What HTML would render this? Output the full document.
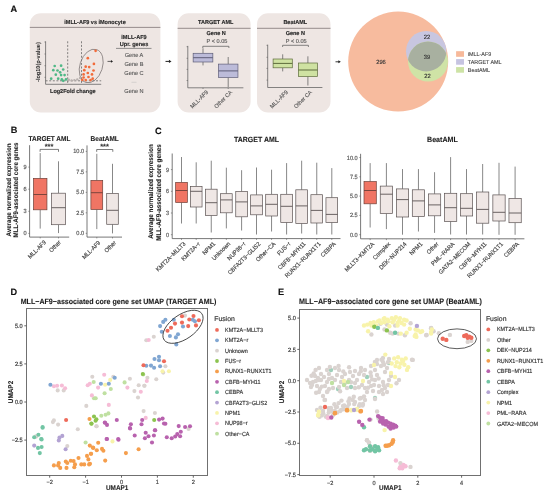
<!DOCTYPE html>
<html><head><meta charset="utf-8"><style>
html,body{margin:0;padding:0;background:#fff;width:550px;height:497px;overflow:hidden}
svg{display:block;will-change:transform}
text{font-family:"Liberation Sans", sans-serif;text-rendering:geometricPrecision}
</style></head><body>
<svg width="550" height="497" viewBox="0 0 550 497">
<text transform="translate(10.4 11.5) scale(1.0000 1)" font-size="9.20" font-weight="bold" text-anchor="start" fill="#111" stroke="#111" stroke-width="0.14">A</text>
<rect x="29.8" y="13.2" width="130.6" height="99.2" fill="#eee6e3" stroke="none" stroke-width="0.8" rx="11"/>
<line x1="29.8" y1="27.4" x2="160.4" y2="27.4" stroke="#8c8282" stroke-width="0.9"/>
<text transform="translate(95 23.6) scale(0.9615 1)" font-size="5.72" font-weight="bold" text-anchor="middle" fill="#2a2a2a" stroke="#2a2a2a" stroke-width="0.14">iMLL-AF9 vs iMonocyte</text>
<line x1="45.6" y1="41.3" x2="45.6" y2="84.3" stroke="#555" stroke-width="0.7"/>
<line x1="45.6" y1="84.3" x2="101.2" y2="84.3" stroke="#555" stroke-width="0.7"/>
<line x1="44.5" y1="42" x2="45.6" y2="42" stroke="#555" stroke-width="0.6"/>
<line x1="44.5" y1="54" x2="45.6" y2="54" stroke="#555" stroke-width="0.6"/>
<line x1="44.5" y1="65.7" x2="45.6" y2="65.7" stroke="#555" stroke-width="0.6"/>
<line x1="44.5" y1="77.3" x2="45.6" y2="77.3" stroke="#555" stroke-width="0.6"/>
<line x1="67.7" y1="41.3" x2="67.7" y2="84.3" stroke="#555" stroke-width="0.7" stroke-dasharray="2,1.6"/>
<line x1="81.5" y1="41.3" x2="81.5" y2="84.3" stroke="#555" stroke-width="0.7" stroke-dasharray="2,1.6"/>
<line x1="45.6" y1="80.8" x2="101.2" y2="80.8" stroke="#555" stroke-width="0.7" stroke-dasharray="2,1.6"/>
<ellipse cx="91.2" cy="66" rx="11.3" ry="17.3" fill="none" stroke="#7a7272" stroke-width="0.7" transform="rotate(18 91.2 66)"/>
<circle cx="54.7" cy="66.0" r="1.35" fill="#4fb886" stroke="none" stroke-width="0.8"/>
<circle cx="61.1" cy="65.7" r="1.35" fill="#4fb886" stroke="none" stroke-width="0.8"/>
<circle cx="53.3" cy="70.2" r="1.35" fill="#4fb886" stroke="none" stroke-width="0.8"/>
<circle cx="57.5" cy="70.5" r="1.35" fill="#4fb886" stroke="none" stroke-width="0.8"/>
<circle cx="63.2" cy="69.5" r="1.35" fill="#4fb886" stroke="none" stroke-width="0.8"/>
<circle cx="60.1" cy="72.3" r="1.35" fill="#4fb886" stroke="none" stroke-width="0.8"/>
<circle cx="55.8" cy="74.7" r="1.35" fill="#4fb886" stroke="none" stroke-width="0.8"/>
<circle cx="61.1" cy="75.1" r="1.35" fill="#4fb886" stroke="none" stroke-width="0.8"/>
<circle cx="64.6" cy="75.1" r="1.35" fill="#4fb886" stroke="none" stroke-width="0.8"/>
<circle cx="51.2" cy="78.7" r="1.35" fill="#4fb886" stroke="none" stroke-width="0.8"/>
<circle cx="58.2" cy="78.7" r="1.35" fill="#4fb886" stroke="none" stroke-width="0.8"/>
<circle cx="61.8" cy="79.4" r="1.35" fill="#4fb886" stroke="none" stroke-width="0.8"/>
<circle cx="66.0" cy="79.4" r="1.35" fill="#4fb886" stroke="none" stroke-width="0.8"/>
<circle cx="63.2" cy="80.8" r="1.35" fill="#4fb886" stroke="none" stroke-width="0.8"/>
<circle cx="95.6" cy="50.8" r="1.35" fill="#f26b3a" stroke="none" stroke-width="0.8"/>
<circle cx="87.8" cy="58.2" r="1.35" fill="#f26b3a" stroke="none" stroke-width="0.8"/>
<circle cx="85.7" cy="66.7" r="1.35" fill="#f26b3a" stroke="none" stroke-width="0.8"/>
<circle cx="89.2" cy="67.1" r="1.35" fill="#f26b3a" stroke="none" stroke-width="0.8"/>
<circle cx="93.9" cy="63.9" r="1.35" fill="#f26b3a" stroke="none" stroke-width="0.8"/>
<circle cx="84.3" cy="70.2" r="1.35" fill="#f26b3a" stroke="none" stroke-width="0.8"/>
<circle cx="93.5" cy="70.5" r="1.35" fill="#f26b3a" stroke="none" stroke-width="0.8"/>
<circle cx="87.8" cy="73.0" r="1.35" fill="#f26b3a" stroke="none" stroke-width="0.8"/>
<circle cx="83.6" cy="74.4" r="1.35" fill="#f26b3a" stroke="none" stroke-width="0.8"/>
<circle cx="92.0" cy="74.4" r="1.35" fill="#f26b3a" stroke="none" stroke-width="0.8"/>
<circle cx="88.5" cy="77.0" r="1.35" fill="#f26b3a" stroke="none" stroke-width="0.8"/>
<circle cx="83.6" cy="77.5" r="1.35" fill="#f26b3a" stroke="none" stroke-width="0.8"/>
<circle cx="92.7" cy="78.7" r="1.35" fill="#f26b3a" stroke="none" stroke-width="0.8"/>
<circle cx="90.6" cy="80.1" r="1.35" fill="#f26b3a" stroke="none" stroke-width="0.8"/>
<circle cx="85.7" cy="80.1" r="1.35" fill="#f26b3a" stroke="none" stroke-width="0.8"/>
<circle cx="82.2" cy="79.8" r="1.35" fill="#f26b3a" stroke="none" stroke-width="0.8"/>
<circle cx="68.8" cy="79.8" r="1.2" fill="#b8b0ae" stroke="none" stroke-width="0.8"/>
<circle cx="71.6" cy="80.4" r="1.2" fill="#b8b0ae" stroke="none" stroke-width="0.8"/>
<circle cx="74.4" cy="80.1" r="1.2" fill="#b8b0ae" stroke="none" stroke-width="0.8"/>
<circle cx="77.3" cy="79.4" r="1.2" fill="#b8b0ae" stroke="none" stroke-width="0.8"/>
<circle cx="80.1" cy="78.0" r="1.2" fill="#b8b0ae" stroke="none" stroke-width="0.8"/>
<text transform="translate(72.8 92.5) scale(0.9615 1)" font-size="5.72" font-weight="bold" text-anchor="middle" fill="#2a2a2a" stroke="#2a2a2a" stroke-width="0.14">Log2Fold change</text>
<text transform="translate(40.3 62.1) rotate(-90) scale(0.9615 1)" font-size="5.82" font-weight="bold" text-anchor="middle" fill="#2a2a2a">-log10(p-value)</text>
<text transform="translate(134 39.3) scale(0.9615 1)" font-size="5.82" font-weight="bold" text-anchor="middle" fill="#2a2a2a" stroke="#2a2a2a" stroke-width="0.14">iMLL-AF9</text>
<text transform="translate(134 46.3) scale(0.9615 1)" font-size="5.82" font-weight="bold" text-anchor="middle" fill="#2a2a2a" stroke="#2a2a2a" stroke-width="0.14">Upr. genes</text>
<line x1="116" y1="48.4" x2="151.5" y2="48.4" stroke="#666" stroke-width="0.7"/>
<text transform="translate(134 56.8) scale(0.9615 1)" font-size="5.82" font-weight="normal" text-anchor="middle" fill="#555" stroke="#555" stroke-width="0.12">Gene A</text>
<text transform="translate(134 66.1) scale(0.9615 1)" font-size="5.82" font-weight="normal" text-anchor="middle" fill="#555" stroke="#555" stroke-width="0.12">Gene B</text>
<text transform="translate(134 74.5) scale(0.9615 1)" font-size="5.82" font-weight="normal" text-anchor="middle" fill="#555" stroke="#555" stroke-width="0.12">Gene C</text>
<text transform="translate(134 92.6) scale(0.9615 1)" font-size="5.82" font-weight="normal" text-anchor="middle" fill="#555" stroke="#555" stroke-width="0.12">Gene N</text>
<line x1="131.5" y1="82.3" x2="136.5" y2="82.3" stroke="#bbb" stroke-width="0.5"/>
<line x1="107.5" y1="61.4" x2="111.7" y2="61.4" stroke="#222" stroke-width="0.7"/>
<path d="M113 61.4 L110.92 60.1 L110.92 62.699999999999996 Z" fill="#222"/>
<line x1="165.5" y1="61.4" x2="169.9" y2="61.4" stroke="#222" stroke-width="1.0"/>
<path d="M171.5 61.4 L168.94 59.8 L168.94 63.0 Z" fill="#222"/>
<line x1="335.5" y1="61.8" x2="339.3" y2="61.8" stroke="#222" stroke-width="0.9"/>
<path d="M340.8 61.8 L338.40000000000003 60.3 L338.40000000000003 63.3 Z" fill="#222"/>
<rect x="177.6" y="13.2" width="73.0" height="99.2" fill="#eee6e3" stroke="none" stroke-width="0.8" rx="11"/>
<line x1="177.6" y1="28.3" x2="250.6" y2="28.3" stroke="#8c8282" stroke-width="0.9"/>
<text transform="translate(215.7 24) scale(0.9615 1)" font-size="5.72" font-weight="bold" text-anchor="middle" fill="#2a2a2a" stroke="#2a2a2a" stroke-width="0.14">TARGET AML</text>
<text transform="translate(216.2 34.6) scale(0.9615 1)" font-size="5.72" font-weight="bold" text-anchor="middle" fill="#2a2a2a" stroke="#2a2a2a" stroke-width="0.14">Gene N</text>
<text transform="translate(217 43.3) scale(0.9615 1)" font-size="5.82" font-weight="normal" text-anchor="middle" fill="#555" stroke="#555" stroke-width="0.12">P &lt; 0.05</text>
<path d="M202.8 48 L202.8 46.3 L228.9 46.3 L228.9 48" fill="none" stroke="#555" stroke-width="0.7"/>
<line x1="187.8" y1="45.9" x2="187.8" y2="87.8" stroke="#555" stroke-width="0.7"/>
<line x1="187.8" y1="87.8" x2="243.4" y2="87.8" stroke="#555" stroke-width="0.7"/>
<line x1="186.6" y1="46.7" x2="187.8" y2="46.7" stroke="#555" stroke-width="0.6"/>
<line x1="186.6" y1="58.3" x2="187.8" y2="58.3" stroke="#555" stroke-width="0.6"/>
<line x1="186.6" y1="69.4" x2="187.8" y2="69.4" stroke="#555" stroke-width="0.6"/>
<line x1="186.6" y1="80.5" x2="187.8" y2="80.5" stroke="#555" stroke-width="0.6"/>
<line x1="203" y1="48.3" x2="203" y2="53.3" stroke="#555" stroke-width="0.7"/>
<line x1="203" y1="62" x2="203" y2="65.4" stroke="#555" stroke-width="0.7"/>
<rect x="193.15" y="53.3" width="19.7" height="8.700000000000003" fill="#bcbbd9" stroke="#5f5e78" stroke-width="0.7" rx="0"/>
<line x1="193.15" y1="57.7" x2="212.85" y2="57.7" stroke="#5f5e78" stroke-width="1.0"/>
<line x1="228.2" y1="57" x2="228.2" y2="64.1" stroke="#555" stroke-width="0.7"/>
<line x1="228.2" y1="77.5" x2="228.2" y2="87" stroke="#555" stroke-width="0.7"/>
<rect x="218.45" y="64.1" width="19.5" height="13.400000000000006" fill="#bcbbd9" stroke="#5f5e78" stroke-width="0.7" rx="0"/>
<line x1="218.45" y1="70.9" x2="237.95" y2="70.9" stroke="#5f5e78" stroke-width="1.0"/>
<line x1="203" y1="87.8" x2="203" y2="89" stroke="#555" stroke-width="0.6"/>
<line x1="228.2" y1="87.8" x2="228.2" y2="89" stroke="#555" stroke-width="0.6"/>
<text transform="translate(208.6 92.6) rotate(-45) scale(0.9615 1)" font-size="5.77" font-weight="normal" text-anchor="end" fill="#555" stroke="#555" stroke-width="0.12">MLL-AF9</text>
<text transform="translate(232.6 92.6) rotate(-45) scale(0.9615 1)" font-size="5.72" font-weight="normal" text-anchor="end" fill="#555" stroke="#555" stroke-width="0.12">Other CA</text>
<rect x="257" y="13.2" width="73.5" height="99.2" fill="#eee6e3" stroke="none" stroke-width="0.8" rx="11"/>
<line x1="257" y1="28.3" x2="330.5" y2="28.3" stroke="#8c8282" stroke-width="0.9"/>
<text transform="translate(295.3 24) scale(0.9615 1)" font-size="5.72" font-weight="bold" text-anchor="middle" fill="#2a2a2a" stroke="#2a2a2a" stroke-width="0.14">BeatAML</text>
<text transform="translate(295.3 34.6) scale(0.9615 1)" font-size="5.72" font-weight="bold" text-anchor="middle" fill="#2a2a2a" stroke="#2a2a2a" stroke-width="0.14">Gene N</text>
<text transform="translate(296.3 42.7) scale(0.9615 1)" font-size="5.82" font-weight="normal" text-anchor="middle" fill="#555" stroke="#555" stroke-width="0.12">P &lt; 0.05</text>
<path d="M282.6 47 L282.6 45.3 L308.4 45.3 L308.4 47" fill="none" stroke="#555" stroke-width="0.7"/>
<line x1="267.7" y1="44.7" x2="267.7" y2="87.5" stroke="#555" stroke-width="0.7"/>
<line x1="267.7" y1="87.5" x2="322.4" y2="87.5" stroke="#555" stroke-width="0.7"/>
<line x1="266.5" y1="45.3" x2="267.7" y2="45.3" stroke="#555" stroke-width="0.6"/>
<line x1="266.5" y1="57.3" x2="267.7" y2="57.3" stroke="#555" stroke-width="0.6"/>
<line x1="266.5" y1="68.4" x2="267.7" y2="68.4" stroke="#555" stroke-width="0.6"/>
<line x1="266.5" y1="80.1" x2="267.7" y2="80.1" stroke="#555" stroke-width="0.6"/>
<line x1="282.7" y1="54.3" x2="282.7" y2="59" stroke="#555" stroke-width="0.7"/>
<line x1="282.7" y1="67.8" x2="282.7" y2="71.4" stroke="#555" stroke-width="0.7"/>
<rect x="273.09999999999997" y="59" width="19.2" height="8.799999999999997" fill="#cfe2a2" stroke="#5d6b3c" stroke-width="0.7" rx="0"/>
<line x1="273.09999999999997" y1="63.4" x2="292.3" y2="63.4" stroke="#5d6b3c" stroke-width="1.0"/>
<line x1="307.9" y1="56.3" x2="307.9" y2="63" stroke="#555" stroke-width="0.7"/>
<line x1="307.9" y1="76.5" x2="307.9" y2="85.5" stroke="#555" stroke-width="0.7"/>
<rect x="298.34999999999997" y="63" width="19.1" height="13.5" fill="#cfe2a2" stroke="#5d6b3c" stroke-width="0.7" rx="0"/>
<line x1="298.34999999999997" y1="70" x2="317.45" y2="70" stroke="#5d6b3c" stroke-width="1.0"/>
<text transform="translate(288.4 92.6) rotate(-45) scale(0.9615 1)" font-size="5.77" font-weight="normal" text-anchor="end" fill="#555" stroke="#555" stroke-width="0.12">MLL-AF9</text>
<text transform="translate(312.4 92.6) rotate(-45) scale(0.9615 1)" font-size="5.72" font-weight="normal" text-anchor="end" fill="#555" stroke="#555" stroke-width="0.12">Other CA</text>
<circle cx="398.2" cy="61.6" r="50" fill="#f7bb9e" stroke="none" stroke-width="0.8"/>
<circle cx="426.2" cy="51.2" r="20.2" fill="#c8c6e0" stroke="none" stroke-width="0.8"/>
<circle cx="428.0" cy="61.6" r="20" fill="#cfe3a6" stroke="none" stroke-width="0.8"/>
<clipPath id="cp1"><circle cx="426.2" cy="51.2" r="20.2"/></clipPath>
<circle cx="428" cy="61.6" r="20" fill="#a8b0a0" clip-path="url(#cp1)"/>
<text transform="translate(381 63.6) scale(0.9615 1)" font-size="6.03" font-weight="normal" text-anchor="middle" fill="#333" stroke="#333" stroke-width="0.12">296</text>
<text transform="translate(427 38.8) scale(0.9615 1)" font-size="6.03" font-weight="normal" text-anchor="middle" fill="#333" stroke="#333" stroke-width="0.12">22</text>
<text transform="translate(427 59) scale(0.9615 1)" font-size="6.03" font-weight="normal" text-anchor="middle" fill="#333" stroke="#333" stroke-width="0.12">39</text>
<text transform="translate(427.5 77.6) scale(0.9615 1)" font-size="6.03" font-weight="normal" text-anchor="middle" fill="#333" stroke="#333" stroke-width="0.12">22</text>
<rect x="456.1" y="51.2" width="7.9" height="5.6" fill="#f7b99a" stroke="none" stroke-width="0.8" rx="0"/>
<text transform="translate(467.8 56.400000000000006) scale(0.9615 1)" font-size="5.62" font-weight="normal" text-anchor="start" fill="#4a4a4a" stroke="#4a4a4a" stroke-width="0.12">iMLL-AF9</text>
<rect x="456.1" y="59.1" width="7.9" height="5.6" fill="#c6c4e1" stroke="none" stroke-width="0.8" rx="0"/>
<text transform="translate(467.8 64.3) scale(0.9615 1)" font-size="5.62" font-weight="normal" text-anchor="start" fill="#4a4a4a" stroke="#4a4a4a" stroke-width="0.12">TARGET AML</text>
<rect x="456.1" y="67.1" width="7.9" height="5.6" fill="#cde3a5" stroke="none" stroke-width="0.8" rx="0"/>
<text transform="translate(467.8 72.3) scale(0.9615 1)" font-size="5.62" font-weight="normal" text-anchor="start" fill="#4a4a4a" stroke="#4a4a4a" stroke-width="0.12">BeatAML</text>
<text transform="translate(10.8 133.4) scale(1.0000 1)" font-size="9.20" font-weight="bold" text-anchor="start" fill="#111" stroke="#111" stroke-width="0.1">B</text>
<text transform="translate(49.5 140.9) scale(0.9259 1)" font-size="7.02" font-weight="bold" text-anchor="middle" fill="#1a1a1a" stroke="#1a1a1a" stroke-width="0.1">TARGET AML</text>
<text transform="translate(49 149.3) scale(1.0000 1)" font-size="7.40" font-weight="bold" text-anchor="middle" fill="#333" stroke="#333" stroke-width="0.1">***</text>
<path d="M40.1 151.8 L40.1 149.4 L58.5 149.4 L58.5 151.8" fill="none" stroke="#444" stroke-width="0.7"/>
<line x1="29.6" y1="145.2" x2="29.6" y2="237.1" stroke="#555" stroke-width="0.8"/>
<line x1="29.6" y1="237.1" x2="69.2" y2="237.1" stroke="#555" stroke-width="0.8"/>
<line x1="28.3" y1="233.4" x2="29.6" y2="233.4" stroke="#555" stroke-width="0.6"/>
<text transform="translate(26.5 235.4) scale(0.9259 1)" font-size="6.05" font-weight="normal" text-anchor="end" fill="#555" stroke="#555" stroke-width="0.16">0</text>
<line x1="28.3" y1="211.3" x2="29.6" y2="211.3" stroke="#555" stroke-width="0.6"/>
<text transform="translate(26.5 213.3) scale(0.9259 1)" font-size="6.05" font-weight="normal" text-anchor="end" fill="#555" stroke="#555" stroke-width="0.16">3</text>
<line x1="28.3" y1="189.2" x2="29.6" y2="189.2" stroke="#555" stroke-width="0.6"/>
<text transform="translate(26.5 191.2) scale(0.9259 1)" font-size="6.05" font-weight="normal" text-anchor="end" fill="#555" stroke="#555" stroke-width="0.16">6</text>
<line x1="28.3" y1="167.10000000000002" x2="29.6" y2="167.10000000000002" stroke="#555" stroke-width="0.6"/>
<text transform="translate(26.5 169.10000000000002) scale(0.9259 1)" font-size="6.05" font-weight="normal" text-anchor="end" fill="#555" stroke="#555" stroke-width="0.16">9</text>
<line x1="40.2" y1="153.1" x2="40.2" y2="178.4" stroke="#555" stroke-width="0.7"/>
<line x1="40.2" y1="209.8" x2="40.2" y2="228.6" stroke="#555" stroke-width="0.7"/>
<rect x="33.45" y="178.4" width="13.5" height="31.400000000000006" fill="#f07564" stroke="#6e4038" stroke-width="0.7" rx="0"/>
<line x1="33.45" y1="194.5" x2="46.95" y2="194.5" stroke="#6e4038" stroke-width="0.9"/>
<line x1="58.5" y1="161.3" x2="58.5" y2="193.2" stroke="#555" stroke-width="0.7"/>
<line x1="58.5" y1="224.7" x2="58.5" y2="233.1" stroke="#555" stroke-width="0.7"/>
<rect x="51.5" y="193.2" width="14" height="31.5" fill="#efe7e5" stroke="#5a5252" stroke-width="0.7" rx="0"/>
<line x1="51.5" y1="207.7" x2="65.5" y2="207.7" stroke="#5a5252" stroke-width="0.9"/>
<line x1="40.2" y1="237.1" x2="40.2" y2="238.4" stroke="#555" stroke-width="0.6"/>
<line x1="58.5" y1="237.1" x2="58.5" y2="238.4" stroke="#555" stroke-width="0.6"/>
<text transform="translate(46.5 242.8) rotate(-45) scale(0.9259 1)" font-size="6.05" font-weight="normal" text-anchor="end" fill="#444" stroke="#444" stroke-width="0.16">MLL-AF9</text>
<text transform="translate(61.4 242.8) rotate(-45) scale(0.9259 1)" font-size="6.05" font-weight="normal" text-anchor="end" fill="#444" stroke="#444" stroke-width="0.16">Other</text>
<text transform="translate(104.7 141.3) scale(0.9259 1)" font-size="7.02" font-weight="bold" text-anchor="middle" fill="#1a1a1a" stroke="#1a1a1a" stroke-width="0.1">BeatAML</text>
<text transform="translate(104.5 149.3) scale(1.0000 1)" font-size="7.40" font-weight="bold" text-anchor="middle" fill="#333" stroke="#333" stroke-width="0.1">***</text>
<path d="M96.7 151.8 L96.7 149.5 L112.8 149.5 L112.8 151.8" fill="none" stroke="#444" stroke-width="0.7"/>
<line x1="87" y1="145.4" x2="87" y2="237.1" stroke="#555" stroke-width="0.8"/>
<line x1="87" y1="237.1" x2="122" y2="237.1" stroke="#555" stroke-width="0.8"/>
<line x1="85.7" y1="233.3" x2="87" y2="233.3" stroke="#555" stroke-width="0.6"/>
<text transform="translate(84.1 235.3) scale(0.9259 1)" font-size="6.05" font-weight="normal" text-anchor="end" fill="#555" stroke="#555" stroke-width="0.16">0.0</text>
<line x1="85.7" y1="212.82500000000002" x2="87" y2="212.82500000000002" stroke="#555" stroke-width="0.6"/>
<text transform="translate(84.1 214.82500000000002) scale(0.9259 1)" font-size="6.05" font-weight="normal" text-anchor="end" fill="#555" stroke="#555" stroke-width="0.16">2.5</text>
<line x1="85.7" y1="192.35000000000002" x2="87" y2="192.35000000000002" stroke="#555" stroke-width="0.6"/>
<text transform="translate(84.1 194.35000000000002) scale(0.9259 1)" font-size="6.05" font-weight="normal" text-anchor="end" fill="#555" stroke="#555" stroke-width="0.16">5.0</text>
<line x1="85.7" y1="171.875" x2="87" y2="171.875" stroke="#555" stroke-width="0.6"/>
<text transform="translate(84.1 173.875) scale(0.9259 1)" font-size="6.05" font-weight="normal" text-anchor="end" fill="#555" stroke="#555" stroke-width="0.16">7.5</text>
<line x1="85.7" y1="151.40000000000003" x2="87" y2="151.40000000000003" stroke="#555" stroke-width="0.6"/>
<text transform="translate(84.1 153.40000000000003) scale(0.9259 1)" font-size="6.05" font-weight="normal" text-anchor="end" fill="#555" stroke="#555" stroke-width="0.16">10.0</text>
<line x1="96.8" y1="153.8" x2="96.8" y2="180.4" stroke="#555" stroke-width="0.7"/>
<line x1="96.8" y1="209.5" x2="96.8" y2="229.1" stroke="#555" stroke-width="0.7"/>
<rect x="90.89999999999999" y="180.4" width="11.8" height="29.099999999999994" fill="#f07564" stroke="#6e4038" stroke-width="0.7" rx="0"/>
<line x1="90.89999999999999" y1="192.7" x2="102.7" y2="192.7" stroke="#6e4038" stroke-width="0.9"/>
<line x1="112.5" y1="163.8" x2="112.5" y2="193.5" stroke="#555" stroke-width="0.7"/>
<line x1="112.5" y1="224.3" x2="112.5" y2="233.4" stroke="#555" stroke-width="0.7"/>
<rect x="106.7" y="193.5" width="11.6" height="30.80000000000001" fill="#efe7e5" stroke="#5a5252" stroke-width="0.7" rx="0"/>
<line x1="106.7" y1="210.3" x2="118.3" y2="210.3" stroke="#5a5252" stroke-width="0.9"/>
<line x1="96.8" y1="237.1" x2="96.8" y2="238.4" stroke="#555" stroke-width="0.6"/>
<line x1="112.5" y1="237.1" x2="112.5" y2="238.4" stroke="#555" stroke-width="0.6"/>
<text transform="translate(100.8 243.2) rotate(-45) scale(0.9259 1)" font-size="6.05" font-weight="normal" text-anchor="end" fill="#444" stroke="#444" stroke-width="0.16">MLL-AF9</text>
<text transform="translate(116.6 243.2) rotate(-45) scale(0.9259 1)" font-size="6.05" font-weight="normal" text-anchor="end" fill="#444" stroke="#444" stroke-width="0.16">Other</text>
<text transform="translate(11.0 190) rotate(-90) scale(0.9259 1)" font-size="6.70" font-weight="bold" text-anchor="middle" fill="#1a1a1a" stroke="#1a1a1a" stroke-width="0.1">Average normalized expression</text>
<text transform="translate(17.9 190) rotate(-90) scale(0.9259 1)" font-size="6.70" font-weight="bold" text-anchor="middle" fill="#1a1a1a" stroke="#1a1a1a" stroke-width="0.1">MLL-AF9-associated core genes</text>
<text transform="translate(155.1 133.9) scale(1.0000 1)" font-size="9.20" font-weight="bold" text-anchor="start" fill="#111" stroke="#111" stroke-width="0.1">C</text>
<text transform="translate(153.0 191.5) rotate(-90) scale(0.9259 1)" font-size="6.80" font-weight="bold" text-anchor="middle" fill="#1a1a1a" stroke="#1a1a1a" stroke-width="0.1">Average normalized expression</text>
<text transform="translate(161.4 192.5) rotate(-90) scale(0.9259 1)" font-size="6.80" font-weight="bold" text-anchor="middle" fill="#1a1a1a" stroke="#1a1a1a" stroke-width="0.1">MLL-AF9-associated core genes</text>
<text transform="translate(256.5 141.5) scale(0.9259 1)" font-size="7.56" font-weight="bold" text-anchor="middle" fill="#1a1a1a" stroke="#1a1a1a" stroke-width="0.1">TARGET AML</text>
<line x1="172.2" y1="153.5" x2="172.2" y2="238.6" stroke="#555" stroke-width="0.8"/>
<line x1="172.2" y1="238.6" x2="340.5" y2="238.6" stroke="#555" stroke-width="0.8"/>
<line x1="170.9" y1="234.7" x2="172.2" y2="234.7" stroke="#555" stroke-width="0.6"/>
<text transform="translate(169.2 236.7) scale(0.9259 1)" font-size="6.05" font-weight="normal" text-anchor="end" fill="#555" stroke="#555" stroke-width="0.16">0</text>
<line x1="170.9" y1="213.0" x2="172.2" y2="213.0" stroke="#555" stroke-width="0.6"/>
<text transform="translate(169.2 215.0) scale(0.9259 1)" font-size="6.05" font-weight="normal" text-anchor="end" fill="#555" stroke="#555" stroke-width="0.16">3</text>
<line x1="170.9" y1="191.29999999999998" x2="172.2" y2="191.29999999999998" stroke="#555" stroke-width="0.6"/>
<text transform="translate(169.2 193.29999999999998) scale(0.9259 1)" font-size="6.05" font-weight="normal" text-anchor="end" fill="#555" stroke="#555" stroke-width="0.16">6</text>
<line x1="170.9" y1="169.6" x2="172.2" y2="169.6" stroke="#555" stroke-width="0.6"/>
<text transform="translate(169.2 171.6) scale(0.9259 1)" font-size="6.05" font-weight="normal" text-anchor="end" fill="#555" stroke="#555" stroke-width="0.16">9</text>
<line x1="181.5" y1="157" x2="181.5" y2="182.4" stroke="#555" stroke-width="0.7"/>
<line x1="181.5" y1="202.5" x2="181.5" y2="223.5" stroke="#555" stroke-width="0.7"/>
<rect x="175.65" y="182.4" width="11.7" height="20.099999999999994" fill="#f07564" stroke="#6e4038" stroke-width="0.7" rx="0"/>
<line x1="175.65" y1="190.5" x2="187.35" y2="190.5" stroke="#6e4038" stroke-width="0.9"/>
<line x1="181.5" y1="238.6" x2="181.5" y2="239.9" stroke="#555" stroke-width="0.6"/>
<text transform="translate(185.9 244.3) rotate(-45) scale(0.9259 1)" font-size="6.05" font-weight="normal" text-anchor="end" fill="#444" stroke="#444" stroke-width="0.16">KMT2A−MLLT3</text>
<line x1="196.2" y1="162.3" x2="196.2" y2="186.4" stroke="#555" stroke-width="0.7"/>
<line x1="196.2" y1="207" x2="196.2" y2="223.5" stroke="#555" stroke-width="0.7"/>
<rect x="190.35" y="186.4" width="11.7" height="20.599999999999994" fill="#efe7e5" stroke="#5a5252" stroke-width="0.7" rx="0"/>
<line x1="190.35" y1="191.3" x2="202.04999999999998" y2="191.3" stroke="#5a5252" stroke-width="0.9"/>
<line x1="196.2" y1="238.6" x2="196.2" y2="239.9" stroke="#555" stroke-width="0.6"/>
<text transform="translate(200.6 244.3) rotate(-45) scale(0.9259 1)" font-size="6.05" font-weight="normal" text-anchor="end" fill="#444" stroke="#444" stroke-width="0.16">KMT2A−r</text>
<line x1="211.25" y1="160.7" x2="211.25" y2="189.2" stroke="#555" stroke-width="0.7"/>
<line x1="211.25" y1="215.4" x2="211.25" y2="232.5" stroke="#555" stroke-width="0.7"/>
<rect x="205.4" y="189.2" width="11.7" height="26.200000000000017" fill="#efe7e5" stroke="#5a5252" stroke-width="0.7" rx="0"/>
<line x1="205.4" y1="202.7" x2="217.1" y2="202.7" stroke="#5a5252" stroke-width="0.9"/>
<line x1="211.25" y1="238.6" x2="211.25" y2="239.9" stroke="#555" stroke-width="0.6"/>
<text transform="translate(215.65 244.3) rotate(-45) scale(0.9259 1)" font-size="6.05" font-weight="normal" text-anchor="end" fill="#444" stroke="#444" stroke-width="0.16">NPM1</text>
<line x1="226.35" y1="167.7" x2="226.35" y2="193.7" stroke="#555" stroke-width="0.7"/>
<line x1="226.35" y1="212.8" x2="226.35" y2="228.4" stroke="#555" stroke-width="0.7"/>
<rect x="220.5" y="193.7" width="11.7" height="19.100000000000023" fill="#efe7e5" stroke="#5a5252" stroke-width="0.7" rx="0"/>
<line x1="220.5" y1="199.9" x2="232.2" y2="199.9" stroke="#5a5252" stroke-width="0.9"/>
<line x1="226.35" y1="238.6" x2="226.35" y2="239.9" stroke="#555" stroke-width="0.6"/>
<text transform="translate(230.75 244.3) rotate(-45) scale(0.9259 1)" font-size="6.05" font-weight="normal" text-anchor="end" fill="#444" stroke="#444" stroke-width="0.16">Unknown</text>
<line x1="241.6" y1="170.2" x2="241.6" y2="191.5" stroke="#555" stroke-width="0.7"/>
<line x1="241.6" y1="216.8" x2="241.6" y2="230.5" stroke="#555" stroke-width="0.7"/>
<rect x="235.75" y="191.5" width="11.7" height="25.30000000000001" fill="#efe7e5" stroke="#5a5252" stroke-width="0.7" rx="0"/>
<line x1="235.75" y1="201.9" x2="247.45" y2="201.9" stroke="#5a5252" stroke-width="0.9"/>
<line x1="241.6" y1="238.6" x2="241.6" y2="239.9" stroke="#555" stroke-width="0.6"/>
<text transform="translate(246.0 244.3) rotate(-45) scale(0.9259 1)" font-size="6.05" font-weight="normal" text-anchor="end" fill="#444" stroke="#444" stroke-width="0.16">NUP98−r</text>
<line x1="256.5" y1="167.5" x2="256.5" y2="194.9" stroke="#555" stroke-width="0.7"/>
<line x1="256.5" y1="214.8" x2="256.5" y2="234.5" stroke="#555" stroke-width="0.7"/>
<rect x="250.65" y="194.9" width="11.7" height="19.900000000000006" fill="#efe7e5" stroke="#5a5252" stroke-width="0.7" rx="0"/>
<line x1="250.65" y1="205.9" x2="262.35" y2="205.9" stroke="#5a5252" stroke-width="0.9"/>
<line x1="256.5" y1="238.6" x2="256.5" y2="239.9" stroke="#555" stroke-width="0.6"/>
<text transform="translate(260.9 244.3) rotate(-45) scale(0.9259 1)" font-size="6.05" font-weight="normal" text-anchor="end" fill="#444" stroke="#444" stroke-width="0.16">CBFA2T3−GLIS2</text>
<line x1="271.55" y1="169.7" x2="271.55" y2="194.3" stroke="#555" stroke-width="0.7"/>
<line x1="271.55" y1="216" x2="271.55" y2="231.5" stroke="#555" stroke-width="0.7"/>
<rect x="265.7" y="194.3" width="11.7" height="21.69999999999999" fill="#efe7e5" stroke="#5a5252" stroke-width="0.7" rx="0"/>
<line x1="265.7" y1="204.3" x2="277.40000000000003" y2="204.3" stroke="#5a5252" stroke-width="0.9"/>
<line x1="271.55" y1="238.6" x2="271.55" y2="239.9" stroke="#555" stroke-width="0.6"/>
<text transform="translate(275.95 244.3) rotate(-45) scale(0.9259 1)" font-size="6.05" font-weight="normal" text-anchor="end" fill="#444" stroke="#444" stroke-width="0.16">Other−CA</text>
<line x1="286.6" y1="163.1" x2="286.6" y2="194.3" stroke="#555" stroke-width="0.7"/>
<line x1="286.6" y1="222.4" x2="286.6" y2="234.5" stroke="#555" stroke-width="0.7"/>
<rect x="280.75" y="194.3" width="11.7" height="28.099999999999994" fill="#efe7e5" stroke="#5a5252" stroke-width="0.7" rx="0"/>
<line x1="280.75" y1="206.3" x2="292.45000000000005" y2="206.3" stroke="#5a5252" stroke-width="0.9"/>
<line x1="286.6" y1="238.6" x2="286.6" y2="239.9" stroke="#555" stroke-width="0.6"/>
<text transform="translate(291.0 244.3) rotate(-45) scale(0.9259 1)" font-size="6.05" font-weight="normal" text-anchor="end" fill="#444" stroke="#444" stroke-width="0.16">FUS−r</text>
<line x1="301.65" y1="160.7" x2="301.65" y2="189.8" stroke="#555" stroke-width="0.7"/>
<line x1="301.65" y1="223.4" x2="301.65" y2="233.5" stroke="#555" stroke-width="0.7"/>
<rect x="295.79999999999995" y="189.8" width="11.7" height="33.599999999999994" fill="#efe7e5" stroke="#5a5252" stroke-width="0.7" rx="0"/>
<line x1="295.79999999999995" y1="205.9" x2="307.5" y2="205.9" stroke="#5a5252" stroke-width="0.9"/>
<line x1="301.65" y1="238.6" x2="301.65" y2="239.9" stroke="#555" stroke-width="0.6"/>
<text transform="translate(306.04999999999995 244.3) rotate(-45) scale(0.9259 1)" font-size="6.05" font-weight="normal" text-anchor="end" fill="#444" stroke="#444" stroke-width="0.16">CBFB−MYH11</text>
<line x1="316.75" y1="162.7" x2="316.75" y2="194.7" stroke="#555" stroke-width="0.7"/>
<line x1="316.75" y1="223" x2="316.75" y2="234.5" stroke="#555" stroke-width="0.7"/>
<rect x="310.9" y="194.7" width="11.7" height="28.30000000000001" fill="#efe7e5" stroke="#5a5252" stroke-width="0.7" rx="0"/>
<line x1="310.9" y1="210.4" x2="322.6" y2="210.4" stroke="#5a5252" stroke-width="0.9"/>
<line x1="316.75" y1="238.6" x2="316.75" y2="239.9" stroke="#555" stroke-width="0.6"/>
<text transform="translate(321.15 244.3) rotate(-45) scale(0.9259 1)" font-size="6.05" font-weight="normal" text-anchor="end" fill="#444" stroke="#444" stroke-width="0.16">RUNX1−RUNX1T1</text>
<line x1="331.8" y1="168.1" x2="331.8" y2="197.7" stroke="#555" stroke-width="0.7"/>
<line x1="331.8" y1="222.4" x2="331.8" y2="234.5" stroke="#555" stroke-width="0.7"/>
<rect x="325.95" y="197.7" width="11.7" height="24.700000000000017" fill="#efe7e5" stroke="#5a5252" stroke-width="0.7" rx="0"/>
<line x1="325.95" y1="214.4" x2="337.65000000000003" y2="214.4" stroke="#5a5252" stroke-width="0.9"/>
<line x1="331.8" y1="238.6" x2="331.8" y2="239.9" stroke="#555" stroke-width="0.6"/>
<text transform="translate(336.2 244.3) rotate(-45) scale(0.9259 1)" font-size="6.05" font-weight="normal" text-anchor="end" fill="#444" stroke="#444" stroke-width="0.16">CEBPA</text>
<text transform="translate(442.4 141.5) scale(0.9259 1)" font-size="7.67" font-weight="bold" text-anchor="middle" fill="#1a1a1a" stroke="#1a1a1a" stroke-width="0.1">BeatAML</text>
<line x1="360.6" y1="153.8" x2="360.6" y2="238.8" stroke="#555" stroke-width="0.8"/>
<line x1="360.6" y1="238.8" x2="524.4" y2="238.8" stroke="#555" stroke-width="0.8"/>
<line x1="359.3" y1="234.7" x2="360.6" y2="234.7" stroke="#555" stroke-width="0.6"/>
<text transform="translate(357.7 236.7) scale(0.9259 1)" font-size="6.05" font-weight="normal" text-anchor="end" fill="#555" stroke="#555" stroke-width="0.16">0.0</text>
<line x1="359.3" y1="215.39999999999998" x2="360.6" y2="215.39999999999998" stroke="#555" stroke-width="0.6"/>
<text transform="translate(357.7 217.39999999999998) scale(0.9259 1)" font-size="6.05" font-weight="normal" text-anchor="end" fill="#555" stroke="#555" stroke-width="0.16">2.5</text>
<line x1="359.3" y1="196.1" x2="360.6" y2="196.1" stroke="#555" stroke-width="0.6"/>
<text transform="translate(357.7 198.1) scale(0.9259 1)" font-size="6.05" font-weight="normal" text-anchor="end" fill="#555" stroke="#555" stroke-width="0.16">5.0</text>
<line x1="359.3" y1="176.79999999999998" x2="360.6" y2="176.79999999999998" stroke="#555" stroke-width="0.6"/>
<text transform="translate(357.7 178.79999999999998) scale(0.9259 1)" font-size="6.05" font-weight="normal" text-anchor="end" fill="#555" stroke="#555" stroke-width="0.16">7.5</text>
<line x1="359.3" y1="157.5" x2="360.6" y2="157.5" stroke="#555" stroke-width="0.6"/>
<text transform="translate(357.7 159.5) scale(0.9259 1)" font-size="6.05" font-weight="normal" text-anchor="end" fill="#555" stroke="#555" stroke-width="0.16">10.0</text>
<line x1="370.15" y1="163.1" x2="370.15" y2="181.6" stroke="#555" stroke-width="0.7"/>
<line x1="370.15" y1="203.8" x2="370.15" y2="227.5" stroke="#555" stroke-width="0.7"/>
<rect x="364.0" y="181.6" width="12.3" height="22.200000000000017" fill="#f07564" stroke="#6e4038" stroke-width="0.7" rx="0"/>
<line x1="364.0" y1="190.5" x2="376.29999999999995" y2="190.5" stroke="#6e4038" stroke-width="0.9"/>
<line x1="370.15" y1="238.8" x2="370.15" y2="240.1" stroke="#555" stroke-width="0.6"/>
<text transform="translate(374.54999999999995 244.5) rotate(-45) scale(0.9259 1)" font-size="6.05" font-weight="normal" text-anchor="end" fill="#444" stroke="#444" stroke-width="0.16">MLLT3−KMT2A</text>
<line x1="386.4" y1="163.1" x2="386.4" y2="186.1" stroke="#555" stroke-width="0.7"/>
<line x1="386.4" y1="213.5" x2="386.4" y2="229.1" stroke="#555" stroke-width="0.7"/>
<rect x="380.25" y="186.1" width="12.3" height="27.400000000000006" fill="#efe7e5" stroke="#5a5252" stroke-width="0.7" rx="0"/>
<line x1="380.25" y1="194.2" x2="392.54999999999995" y2="194.2" stroke="#5a5252" stroke-width="0.9"/>
<line x1="386.4" y1="238.8" x2="386.4" y2="240.1" stroke="#555" stroke-width="0.6"/>
<text transform="translate(390.79999999999995 244.5) rotate(-45) scale(0.9259 1)" font-size="6.05" font-weight="normal" text-anchor="end" fill="#444" stroke="#444" stroke-width="0.16">Complex</text>
<line x1="402.5" y1="169.1" x2="402.5" y2="188.9" stroke="#555" stroke-width="0.7"/>
<line x1="402.5" y1="217" x2="402.5" y2="234.7" stroke="#555" stroke-width="0.7"/>
<rect x="396.35" y="188.9" width="12.3" height="28.099999999999994" fill="#efe7e5" stroke="#5a5252" stroke-width="0.7" rx="0"/>
<line x1="396.35" y1="199.6" x2="408.65" y2="199.6" stroke="#5a5252" stroke-width="0.9"/>
<line x1="402.5" y1="238.8" x2="402.5" y2="240.1" stroke="#555" stroke-width="0.6"/>
<text transform="translate(406.9 244.5) rotate(-45) scale(0.9259 1)" font-size="6.05" font-weight="normal" text-anchor="end" fill="#444" stroke="#444" stroke-width="0.16">DEK−NUP214</text>
<line x1="418.45" y1="169.1" x2="418.45" y2="189.8" stroke="#555" stroke-width="0.7"/>
<line x1="418.45" y1="216.4" x2="418.45" y2="231.5" stroke="#555" stroke-width="0.7"/>
<rect x="412.3" y="189.8" width="12.3" height="26.599999999999994" fill="#efe7e5" stroke="#5a5252" stroke-width="0.7" rx="0"/>
<line x1="412.3" y1="200.9" x2="424.59999999999997" y2="200.9" stroke="#5a5252" stroke-width="0.9"/>
<line x1="418.45" y1="238.8" x2="418.45" y2="240.1" stroke="#555" stroke-width="0.6"/>
<text transform="translate(422.84999999999997 244.5) rotate(-45) scale(0.9259 1)" font-size="6.05" font-weight="normal" text-anchor="end" fill="#444" stroke="#444" stroke-width="0.16">NPM1</text>
<line x1="434.55" y1="172.2" x2="434.55" y2="193.9" stroke="#555" stroke-width="0.7"/>
<line x1="434.55" y1="215.8" x2="434.55" y2="232.9" stroke="#555" stroke-width="0.7"/>
<rect x="428.40000000000003" y="193.9" width="12.3" height="21.900000000000006" fill="#efe7e5" stroke="#5a5252" stroke-width="0.7" rx="0"/>
<line x1="428.40000000000003" y1="204.9" x2="440.7" y2="204.9" stroke="#5a5252" stroke-width="0.9"/>
<line x1="434.55" y1="238.8" x2="434.55" y2="240.1" stroke="#555" stroke-width="0.6"/>
<text transform="translate(438.95 244.5) rotate(-45) scale(0.9259 1)" font-size="6.05" font-weight="normal" text-anchor="end" fill="#444" stroke="#444" stroke-width="0.16">Other</text>
<line x1="450.6" y1="157.1" x2="450.6" y2="193.3" stroke="#555" stroke-width="0.7"/>
<line x1="450.6" y1="221.4" x2="450.6" y2="234.5" stroke="#555" stroke-width="0.7"/>
<rect x="444.45000000000005" y="193.3" width="12.3" height="28.099999999999994" fill="#efe7e5" stroke="#5a5252" stroke-width="0.7" rx="0"/>
<line x1="444.45000000000005" y1="207.7" x2="456.75" y2="207.7" stroke="#5a5252" stroke-width="0.9"/>
<line x1="450.6" y1="238.8" x2="450.6" y2="240.1" stroke="#555" stroke-width="0.6"/>
<text transform="translate(455.0 244.5) rotate(-45) scale(0.9259 1)" font-size="6.05" font-weight="normal" text-anchor="end" fill="#444" stroke="#444" stroke-width="0.16">PML−RARA</text>
<line x1="466.5" y1="169.1" x2="466.5" y2="193.7" stroke="#555" stroke-width="0.7"/>
<line x1="466.5" y1="216" x2="466.5" y2="234.5" stroke="#555" stroke-width="0.7"/>
<rect x="460.35" y="193.7" width="12.3" height="22.30000000000001" fill="#efe7e5" stroke="#5a5252" stroke-width="0.7" rx="0"/>
<line x1="460.35" y1="208.3" x2="472.65" y2="208.3" stroke="#5a5252" stroke-width="0.9"/>
<line x1="466.5" y1="238.8" x2="466.5" y2="240.1" stroke="#555" stroke-width="0.6"/>
<text transform="translate(470.9 244.5) rotate(-45) scale(0.9259 1)" font-size="6.05" font-weight="normal" text-anchor="end" fill="#444" stroke="#444" stroke-width="0.16">GATA2−MECOM</text>
<line x1="482.65" y1="164" x2="482.65" y2="192" stroke="#555" stroke-width="0.7"/>
<line x1="482.65" y1="223.2" x2="482.65" y2="234.5" stroke="#555" stroke-width="0.7"/>
<rect x="476.5" y="192" width="12.3" height="31.19999999999999" fill="#efe7e5" stroke="#5a5252" stroke-width="0.7" rx="0"/>
<line x1="476.5" y1="209.4" x2="488.79999999999995" y2="209.4" stroke="#5a5252" stroke-width="0.9"/>
<line x1="482.65" y1="238.8" x2="482.65" y2="240.1" stroke="#555" stroke-width="0.6"/>
<text transform="translate(487.04999999999995 244.5) rotate(-45) scale(0.9259 1)" font-size="6.05" font-weight="normal" text-anchor="end" fill="#444" stroke="#444" stroke-width="0.16">CBFB−MYH11</text>
<line x1="499" y1="162.8" x2="499" y2="194.9" stroke="#555" stroke-width="0.7"/>
<line x1="499" y1="221" x2="499" y2="234.8" stroke="#555" stroke-width="0.7"/>
<rect x="492.85" y="194.9" width="12.3" height="26.099999999999994" fill="#efe7e5" stroke="#5a5252" stroke-width="0.7" rx="0"/>
<line x1="492.85" y1="212.3" x2="505.15" y2="212.3" stroke="#5a5252" stroke-width="0.9"/>
<line x1="499" y1="238.8" x2="499" y2="240.1" stroke="#555" stroke-width="0.6"/>
<text transform="translate(503.4 244.5) rotate(-45) scale(0.9259 1)" font-size="6.05" font-weight="normal" text-anchor="end" fill="#444" stroke="#444" stroke-width="0.16">RUNX1−RUNX1T1</text>
<line x1="515.1" y1="166.6" x2="515.1" y2="198.5" stroke="#555" stroke-width="0.7"/>
<line x1="515.1" y1="222.7" x2="515.1" y2="234.8" stroke="#555" stroke-width="0.7"/>
<rect x="508.95000000000005" y="198.5" width="12.3" height="24.19999999999999" fill="#efe7e5" stroke="#5a5252" stroke-width="0.7" rx="0"/>
<line x1="508.95000000000005" y1="213" x2="521.25" y2="213" stroke="#5a5252" stroke-width="0.9"/>
<line x1="515.1" y1="238.8" x2="515.1" y2="240.1" stroke="#555" stroke-width="0.6"/>
<text transform="translate(519.5 244.5) rotate(-45) scale(0.9259 1)" font-size="6.05" font-weight="normal" text-anchor="end" fill="#444" stroke="#444" stroke-width="0.16">CEBPA</text>
<text transform="translate(10.6 294.9) scale(1.0000 1)" font-size="9.20" font-weight="bold" text-anchor="start" fill="#111" stroke="#111" stroke-width="0.1">D</text>
<text transform="translate(20.7 303.6) scale(0.9259 1)" font-size="7.66" font-weight="bold" text-anchor="start" fill="#1a1a1a" stroke="#1a1a1a" stroke-width="0.1">MLL−AF9−associated core gene set UMAP (TARGET AML)</text>
<rect x="26.5" y="308.5" width="181" height="167" fill="none" stroke="#707070" stroke-width="1.0" rx="0"/>
<line x1="24.3" y1="325.8" x2="26.5" y2="325.8" stroke="#555" stroke-width="0.9"/>
<text transform="translate(22.7 327.90000000000003) scale(0.9259 1)" font-size="6.05" font-weight="normal" text-anchor="end" fill="#333" stroke="#333" stroke-width="0.16">5.0</text>
<line x1="24.3" y1="363.9" x2="26.5" y2="363.9" stroke="#555" stroke-width="0.9"/>
<text transform="translate(22.7 366.0) scale(0.9259 1)" font-size="6.05" font-weight="normal" text-anchor="end" fill="#333" stroke="#333" stroke-width="0.16">2.5</text>
<line x1="24.3" y1="402.0" x2="26.5" y2="402.0" stroke="#555" stroke-width="0.9"/>
<text transform="translate(22.7 404.1) scale(0.9259 1)" font-size="6.05" font-weight="normal" text-anchor="end" fill="#333" stroke="#333" stroke-width="0.16">0.0</text>
<line x1="24.3" y1="440.1" x2="26.5" y2="440.1" stroke="#555" stroke-width="0.9"/>
<text transform="translate(22.7 442.20000000000005) scale(0.9259 1)" font-size="6.05" font-weight="normal" text-anchor="end" fill="#333" stroke="#333" stroke-width="0.16">−2.5</text>
<line x1="49.7" y1="475.5" x2="49.7" y2="477.7" stroke="#555" stroke-width="0.9"/>
<text transform="translate(49.7 484.3) scale(0.9259 1)" font-size="6.05" font-weight="normal" text-anchor="middle" fill="#444" stroke="#444" stroke-width="0.16">−2</text>
<line x1="85.6" y1="475.5" x2="85.6" y2="477.7" stroke="#555" stroke-width="0.9"/>
<text transform="translate(85.6 484.3) scale(0.9259 1)" font-size="6.05" font-weight="normal" text-anchor="middle" fill="#444" stroke="#444" stroke-width="0.16">−1</text>
<line x1="121.5" y1="475.5" x2="121.5" y2="477.7" stroke="#555" stroke-width="0.9"/>
<text transform="translate(121.5 484.3) scale(0.9259 1)" font-size="6.05" font-weight="normal" text-anchor="middle" fill="#444" stroke="#444" stroke-width="0.16">0</text>
<line x1="157.4" y1="475.5" x2="157.4" y2="477.7" stroke="#555" stroke-width="0.9"/>
<text transform="translate(157.4 484.3) scale(0.9259 1)" font-size="6.05" font-weight="normal" text-anchor="middle" fill="#444" stroke="#444" stroke-width="0.16">1</text>
<line x1="193.3" y1="475.5" x2="193.3" y2="477.7" stroke="#555" stroke-width="0.9"/>
<text transform="translate(193.3 484.3) scale(0.9259 1)" font-size="6.05" font-weight="normal" text-anchor="middle" fill="#444" stroke="#444" stroke-width="0.16">2</text>
<text transform="translate(117.2 489.5) scale(0.9259 1)" font-size="6.91" font-weight="bold" text-anchor="middle" fill="#1a1a1a" stroke="#1a1a1a" stroke-width="0.1">UMAP1</text>
<text transform="translate(12.8 392) rotate(-90) scale(0.9259 1)" font-size="6.91" font-weight="bold" text-anchor="middle" fill="#1a1a1a" stroke="#1a1a1a" stroke-width="0.1">UMAP2</text>
<circle cx="185.0" cy="315.6" r="2.05" fill="#dad3d0" stroke="none" stroke-width="0.8"/>
<circle cx="153.8" cy="336.7" r="2.05" fill="#dad3d0" stroke="none" stroke-width="0.8"/>
<circle cx="146.3" cy="340.2" r="2.05" fill="#dad3d0" stroke="none" stroke-width="0.8"/>
<circle cx="165.4" cy="366.3" r="2.05" fill="#dad3d0" stroke="none" stroke-width="0.8"/>
<circle cx="163.2" cy="372.6" r="2.05" fill="#dad3d0" stroke="none" stroke-width="0.8"/>
<circle cx="57.7" cy="390.4" r="2.05" fill="#dad3d0" stroke="none" stroke-width="0.8"/>
<circle cx="63.7" cy="390.4" r="2.05" fill="#dad3d0" stroke="none" stroke-width="0.8"/>
<circle cx="92.3" cy="376.8" r="2.05" fill="#dad3d0" stroke="none" stroke-width="0.8"/>
<circle cx="86.3" cy="405.9" r="2.05" fill="#dad3d0" stroke="none" stroke-width="0.8"/>
<circle cx="53.9" cy="420.4" r="2.05" fill="#dad3d0" stroke="none" stroke-width="0.8"/>
<circle cx="52.9" cy="422.1" r="2.05" fill="#dad3d0" stroke="none" stroke-width="0.8"/>
<circle cx="58.1" cy="424.6" r="2.05" fill="#dad3d0" stroke="none" stroke-width="0.8"/>
<circle cx="77.8" cy="429.2" r="2.05" fill="#dad3d0" stroke="none" stroke-width="0.8"/>
<circle cx="36.0" cy="436.2" r="2.05" fill="#dad3d0" stroke="none" stroke-width="0.8"/>
<circle cx="36.3" cy="436.6" r="2.05" fill="#dad3d0" stroke="none" stroke-width="0.8"/>
<circle cx="67.3" cy="446.1" r="2.05" fill="#dad3d0" stroke="none" stroke-width="0.8"/>
<circle cx="113.3" cy="376.8" r="2.05" fill="#dad3d0" stroke="none" stroke-width="0.8"/>
<circle cx="129.9" cy="378.7" r="2.05" fill="#dad3d0" stroke="none" stroke-width="0.8"/>
<circle cx="147.4" cy="377.7" r="2.05" fill="#dad3d0" stroke="none" stroke-width="0.8"/>
<circle cx="156.3" cy="379.2" r="2.05" fill="#dad3d0" stroke="none" stroke-width="0.8"/>
<circle cx="138.7" cy="385.2" r="2.05" fill="#dad3d0" stroke="none" stroke-width="0.8"/>
<circle cx="144.3" cy="385.8" r="2.05" fill="#dad3d0" stroke="none" stroke-width="0.8"/>
<circle cx="134.4" cy="391.1" r="2.05" fill="#dad3d0" stroke="none" stroke-width="0.8"/>
<circle cx="138.0" cy="397.5" r="2.05" fill="#dad3d0" stroke="none" stroke-width="0.8"/>
<circle cx="143.6" cy="411.1" r="2.05" fill="#dad3d0" stroke="none" stroke-width="0.8"/>
<circle cx="154.9" cy="413.0" r="2.05" fill="#dad3d0" stroke="none" stroke-width="0.8"/>
<circle cx="96.7" cy="426.3" r="2.05" fill="#dad3d0" stroke="none" stroke-width="0.8"/>
<circle cx="188.6" cy="428.9" r="2.05" fill="#dad3d0" stroke="none" stroke-width="0.8"/>
<circle cx="144.5" cy="385.8" r="2.05" fill="#dad3d0" stroke="none" stroke-width="0.8"/>
<circle cx="96.3" cy="426.3" r="2.05" fill="#dad3d0" stroke="none" stroke-width="0.8"/>
<circle cx="93.7" cy="382.0" r="2.05" fill="#bfe0a1" stroke="none" stroke-width="0.8"/>
<circle cx="94.0" cy="398.2" r="2.05" fill="#bfe0a1" stroke="none" stroke-width="0.8"/>
<circle cx="143.2" cy="374.5" r="2.05" fill="#bfe0a1" stroke="none" stroke-width="0.8"/>
<circle cx="124.6" cy="382.4" r="2.05" fill="#bfe0a1" stroke="none" stroke-width="0.8"/>
<circle cx="110.8" cy="389.0" r="2.05" fill="#bfe0a1" stroke="none" stroke-width="0.8"/>
<circle cx="104.6" cy="393.2" r="2.05" fill="#bfe0a1" stroke="none" stroke-width="0.8"/>
<circle cx="101.3" cy="415.8" r="2.05" fill="#bfe0a1" stroke="none" stroke-width="0.8"/>
<circle cx="105.6" cy="414.8" r="2.05" fill="#bfe0a1" stroke="none" stroke-width="0.8"/>
<circle cx="108.4" cy="413.4" r="2.05" fill="#bfe0a1" stroke="none" stroke-width="0.8"/>
<circle cx="95.7" cy="398.2" r="2.05" fill="#bfe0a1" stroke="none" stroke-width="0.8"/>
<circle cx="85.6" cy="442.5" r="2.05" fill="#bfe0a1" stroke="none" stroke-width="0.8"/>
<circle cx="148.7" cy="340.0" r="2.05" fill="#f6bcd6" stroke="none" stroke-width="0.8"/>
<circle cx="104.2" cy="374.7" r="2.05" fill="#f6bcd6" stroke="none" stroke-width="0.8"/>
<circle cx="53.9" cy="386.2" r="2.05" fill="#f6bcd6" stroke="none" stroke-width="0.8"/>
<circle cx="57.1" cy="385.8" r="2.05" fill="#f6bcd6" stroke="none" stroke-width="0.8"/>
<circle cx="61.9" cy="385.5" r="2.05" fill="#f6bcd6" stroke="none" stroke-width="0.8"/>
<circle cx="65.1" cy="388.3" r="2.05" fill="#f6bcd6" stroke="none" stroke-width="0.8"/>
<circle cx="87.7" cy="385.2" r="2.05" fill="#f6bcd6" stroke="none" stroke-width="0.8"/>
<circle cx="89.8" cy="383.8" r="2.05" fill="#f6bcd6" stroke="none" stroke-width="0.8"/>
<circle cx="91.9" cy="395.4" r="2.05" fill="#f6bcd6" stroke="none" stroke-width="0.8"/>
<circle cx="98.1" cy="387.6" r="2.05" fill="#f6bcd6" stroke="none" stroke-width="0.8"/>
<circle cx="127.4" cy="387.6" r="2.05" fill="#f6bcd6" stroke="none" stroke-width="0.8"/>
<circle cx="140.8" cy="391.8" r="2.05" fill="#f6bcd6" stroke="none" stroke-width="0.8"/>
<circle cx="146.8" cy="381.0" r="2.05" fill="#f6bcd6" stroke="none" stroke-width="0.8"/>
<circle cx="108.8" cy="404.9" r="2.05" fill="#f6bcd6" stroke="none" stroke-width="0.8"/>
<circle cx="145.7" cy="417.9" r="2.05" fill="#f6bcd6" stroke="none" stroke-width="0.8"/>
<circle cx="162.5" cy="371.2" r="2.05" fill="#f8f3aa" stroke="none" stroke-width="0.8"/>
<circle cx="168.9" cy="371.2" r="2.05" fill="#f8f3aa" stroke="none" stroke-width="0.8"/>
<circle cx="105.1" cy="384.8" r="2.05" fill="#f8f3aa" stroke="none" stroke-width="0.8"/>
<circle cx="110.2" cy="379.9" r="2.05" fill="#f8f3aa" stroke="none" stroke-width="0.8"/>
<circle cx="112.5" cy="441.4" r="2.05" fill="#f8f3aa" stroke="none" stroke-width="0.8"/>
<circle cx="42.6" cy="427.7" r="2.05" fill="#72c5a4" stroke="none" stroke-width="0.8"/>
<circle cx="38.4" cy="434.8" r="2.05" fill="#72c5a4" stroke="none" stroke-width="0.8"/>
<circle cx="34.2" cy="437.3" r="2.05" fill="#72c5a4" stroke="none" stroke-width="0.8"/>
<circle cx="41.2" cy="439.0" r="2.05" fill="#72c5a4" stroke="none" stroke-width="0.8"/>
<circle cx="42.6" cy="427.0" r="2.05" fill="#72c5a4" stroke="none" stroke-width="0.8"/>
<circle cx="41.6" cy="439.4" r="2.05" fill="#72c5a4" stroke="none" stroke-width="0.8"/>
<circle cx="38.0" cy="447.9" r="2.05" fill="#72c5a4" stroke="none" stroke-width="0.8"/>
<circle cx="41.6" cy="447.0" r="2.05" fill="#72c5a4" stroke="none" stroke-width="0.8"/>
<circle cx="39.8" cy="453.1" r="2.05" fill="#72c5a4" stroke="none" stroke-width="0.8"/>
<circle cx="59.5" cy="437.6" r="2.05" fill="#b3a3d3" stroke="none" stroke-width="0.8"/>
<circle cx="62.3" cy="435.9" r="2.05" fill="#b3a3d3" stroke="none" stroke-width="0.8"/>
<circle cx="34.2" cy="445.6" r="2.05" fill="#b3a3d3" stroke="none" stroke-width="0.8"/>
<circle cx="58.8" cy="440.4" r="2.05" fill="#b3a3d3" stroke="none" stroke-width="0.8"/>
<circle cx="65.6" cy="449.3" r="2.05" fill="#b3a3d3" stroke="none" stroke-width="0.8"/>
<circle cx="89.5" cy="419.0" r="2.05" fill="#f59e4c" stroke="none" stroke-width="0.8"/>
<circle cx="89.8" cy="445.6" r="2.05" fill="#f59e4c" stroke="none" stroke-width="0.8"/>
<circle cx="93.3" cy="447.9" r="2.05" fill="#f59e4c" stroke="none" stroke-width="0.8"/>
<circle cx="90.9" cy="453.8" r="2.05" fill="#f59e4c" stroke="none" stroke-width="0.8"/>
<circle cx="87.0" cy="455.9" r="2.05" fill="#f59e4c" stroke="none" stroke-width="0.8"/>
<circle cx="88.4" cy="459.4" r="2.05" fill="#f59e4c" stroke="none" stroke-width="0.8"/>
<circle cx="78.5" cy="458.0" r="2.05" fill="#f59e4c" stroke="none" stroke-width="0.8"/>
<circle cx="73.6" cy="461.1" r="2.05" fill="#f59e4c" stroke="none" stroke-width="0.8"/>
<circle cx="70.8" cy="460.8" r="2.05" fill="#f59e4c" stroke="none" stroke-width="0.8"/>
<circle cx="65.8" cy="461.5" r="2.05" fill="#f59e4c" stroke="none" stroke-width="0.8"/>
<circle cx="67.3" cy="463.0" r="2.05" fill="#f59e4c" stroke="none" stroke-width="0.8"/>
<circle cx="58.8" cy="463.0" r="2.05" fill="#f59e4c" stroke="none" stroke-width="0.8"/>
<circle cx="58.1" cy="465.4" r="2.05" fill="#f59e4c" stroke="none" stroke-width="0.8"/>
<circle cx="53.9" cy="465.4" r="2.05" fill="#f59e4c" stroke="none" stroke-width="0.8"/>
<circle cx="60.2" cy="467.9" r="2.05" fill="#f59e4c" stroke="none" stroke-width="0.8"/>
<circle cx="66.5" cy="467.9" r="2.05" fill="#f59e4c" stroke="none" stroke-width="0.8"/>
<circle cx="74.3" cy="467.2" r="2.05" fill="#f59e4c" stroke="none" stroke-width="0.8"/>
<circle cx="75.0" cy="464.4" r="2.05" fill="#f59e4c" stroke="none" stroke-width="0.8"/>
<circle cx="81.3" cy="464.4" r="2.05" fill="#f59e4c" stroke="none" stroke-width="0.8"/>
<circle cx="84.2" cy="464.4" r="2.05" fill="#f59e4c" stroke="none" stroke-width="0.8"/>
<circle cx="89.1" cy="464.4" r="2.05" fill="#f59e4c" stroke="none" stroke-width="0.8"/>
<circle cx="98.2" cy="442.8" r="2.05" fill="#f59e4c" stroke="none" stroke-width="0.8"/>
<circle cx="92.8" cy="447.5" r="2.05" fill="#f59e4c" stroke="none" stroke-width="0.8"/>
<circle cx="96.8" cy="450.3" r="2.05" fill="#f59e4c" stroke="none" stroke-width="0.8"/>
<circle cx="102.0" cy="448.9" r="2.05" fill="#f59e4c" stroke="none" stroke-width="0.8"/>
<circle cx="103.4" cy="450.7" r="2.05" fill="#f59e4c" stroke="none" stroke-width="0.8"/>
<circle cx="91.1" cy="453.8" r="2.05" fill="#f59e4c" stroke="none" stroke-width="0.8"/>
<circle cx="125.9" cy="453.1" r="2.05" fill="#f59e4c" stroke="none" stroke-width="0.8"/>
<circle cx="138.6" cy="449.3" r="2.05" fill="#f59e4c" stroke="none" stroke-width="0.8"/>
<circle cx="105.2" cy="460.6" r="2.05" fill="#f59e4c" stroke="none" stroke-width="0.8"/>
<circle cx="90.0" cy="463.7" r="2.05" fill="#f59e4c" stroke="none" stroke-width="0.8"/>
<circle cx="142.8" cy="374.0" r="2.05" fill="#8cc34f" stroke="none" stroke-width="0.8"/>
<circle cx="91.5" cy="423.8" r="2.05" fill="#8cc34f" stroke="none" stroke-width="0.8"/>
<circle cx="94.0" cy="416.5" r="2.05" fill="#8cc34f" stroke="none" stroke-width="0.8"/>
<circle cx="96.4" cy="419.3" r="2.05" fill="#8cc34f" stroke="none" stroke-width="0.8"/>
<circle cx="154.2" cy="420.0" r="2.05" fill="#8cc34f" stroke="none" stroke-width="0.8"/>
<circle cx="91.4" cy="423.5" r="2.05" fill="#8cc34f" stroke="none" stroke-width="0.8"/>
<circle cx="95.6" cy="420.7" r="2.05" fill="#8cc34f" stroke="none" stroke-width="0.8"/>
<circle cx="116.8" cy="420.0" r="2.05" fill="#b862ae" stroke="none" stroke-width="0.8"/>
<circle cx="105.1" cy="422.8" r="2.05" fill="#b862ae" stroke="none" stroke-width="0.8"/>
<circle cx="107.0" cy="424.9" r="2.05" fill="#b862ae" stroke="none" stroke-width="0.8"/>
<circle cx="130.9" cy="424.2" r="2.05" fill="#b862ae" stroke="none" stroke-width="0.8"/>
<circle cx="129.9" cy="428.0" r="2.05" fill="#b862ae" stroke="none" stroke-width="0.8"/>
<circle cx="142.2" cy="420.0" r="2.05" fill="#b862ae" stroke="none" stroke-width="0.8"/>
<circle cx="141.5" cy="424.2" r="2.05" fill="#b862ae" stroke="none" stroke-width="0.8"/>
<circle cx="159.1" cy="419.6" r="2.05" fill="#b862ae" stroke="none" stroke-width="0.8"/>
<circle cx="162.6" cy="418.6" r="2.05" fill="#b862ae" stroke="none" stroke-width="0.8"/>
<circle cx="164.0" cy="423.5" r="2.05" fill="#b862ae" stroke="none" stroke-width="0.8"/>
<circle cx="154.9" cy="430.3" r="2.05" fill="#b862ae" stroke="none" stroke-width="0.8"/>
<circle cx="145.7" cy="432.7" r="2.05" fill="#b862ae" stroke="none" stroke-width="0.8"/>
<circle cx="134.7" cy="435.5" r="2.05" fill="#b862ae" stroke="none" stroke-width="0.8"/>
<circle cx="148.5" cy="436.2" r="2.05" fill="#b862ae" stroke="none" stroke-width="0.8"/>
<circle cx="153.9" cy="435.5" r="2.05" fill="#b862ae" stroke="none" stroke-width="0.8"/>
<circle cx="107.0" cy="439.0" r="2.05" fill="#b862ae" stroke="none" stroke-width="0.8"/>
<circle cx="118.2" cy="439.0" r="2.05" fill="#b862ae" stroke="none" stroke-width="0.8"/>
<circle cx="178.7" cy="426.1" r="2.05" fill="#b862ae" stroke="none" stroke-width="0.8"/>
<circle cx="185.1" cy="427.0" r="2.05" fill="#b862ae" stroke="none" stroke-width="0.8"/>
<circle cx="190.0" cy="426.3" r="2.05" fill="#b862ae" stroke="none" stroke-width="0.8"/>
<circle cx="180.8" cy="431.7" r="2.05" fill="#b862ae" stroke="none" stroke-width="0.8"/>
<circle cx="177.3" cy="434.1" r="2.05" fill="#b862ae" stroke="none" stroke-width="0.8"/>
<circle cx="180.1" cy="436.2" r="2.05" fill="#b862ae" stroke="none" stroke-width="0.8"/>
<circle cx="175.2" cy="436.5" r="2.05" fill="#b862ae" stroke="none" stroke-width="0.8"/>
<circle cx="166.8" cy="437.3" r="2.05" fill="#b862ae" stroke="none" stroke-width="0.8"/>
<circle cx="171.7" cy="438.3" r="2.05" fill="#b862ae" stroke="none" stroke-width="0.8"/>
<circle cx="144.9" cy="438.3" r="2.05" fill="#b862ae" stroke="none" stroke-width="0.8"/>
<circle cx="165.4" cy="423.8" r="2.05" fill="#b862ae" stroke="none" stroke-width="0.8"/>
<circle cx="155.2" cy="430.3" r="2.05" fill="#b862ae" stroke="none" stroke-width="0.8"/>
<circle cx="130.1" cy="428.5" r="2.05" fill="#b862ae" stroke="none" stroke-width="0.8"/>
<circle cx="152.0" cy="442.5" r="2.05" fill="#b862ae" stroke="none" stroke-width="0.8"/>
<circle cx="106.6" cy="439.0" r="2.05" fill="#b862ae" stroke="none" stroke-width="0.8"/>
<circle cx="118.5" cy="439.7" r="2.05" fill="#b862ae" stroke="none" stroke-width="0.8"/>
<circle cx="104.8" cy="422.5" r="2.05" fill="#b862ae" stroke="none" stroke-width="0.8"/>
<circle cx="163.2" cy="321.9" r="2.05" fill="#80a6d2" stroke="none" stroke-width="0.8"/>
<circle cx="165.4" cy="319.8" r="2.05" fill="#80a6d2" stroke="none" stroke-width="0.8"/>
<circle cx="160.1" cy="326.1" r="2.05" fill="#80a6d2" stroke="none" stroke-width="0.8"/>
<circle cx="161.8" cy="331.8" r="2.05" fill="#80a6d2" stroke="none" stroke-width="0.8"/>
<circle cx="173.8" cy="319.8" r="2.05" fill="#80a6d2" stroke="none" stroke-width="0.8"/>
<circle cx="183.0" cy="326.5" r="2.05" fill="#80a6d2" stroke="none" stroke-width="0.8"/>
<circle cx="192.8" cy="319.8" r="2.05" fill="#80a6d2" stroke="none" stroke-width="0.8"/>
<circle cx="194.9" cy="321.2" r="2.05" fill="#80a6d2" stroke="none" stroke-width="0.8"/>
<circle cx="169.9" cy="336.0" r="2.05" fill="#80a6d2" stroke="none" stroke-width="0.8"/>
<circle cx="175.9" cy="337.4" r="2.05" fill="#80a6d2" stroke="none" stroke-width="0.8"/>
<circle cx="178.0" cy="334.3" r="2.05" fill="#80a6d2" stroke="none" stroke-width="0.8"/>
<circle cx="176.3" cy="344.4" r="2.05" fill="#80a6d2" stroke="none" stroke-width="0.8"/>
<circle cx="159.0" cy="356.8" r="2.05" fill="#80a6d2" stroke="none" stroke-width="0.8"/>
<circle cx="154.5" cy="359.0" r="2.05" fill="#80a6d2" stroke="none" stroke-width="0.8"/>
<circle cx="159.0" cy="360.2" r="2.05" fill="#80a6d2" stroke="none" stroke-width="0.8"/>
<circle cx="151.0" cy="365.6" r="2.05" fill="#80a6d2" stroke="none" stroke-width="0.8"/>
<circle cx="154.1" cy="367.7" r="2.05" fill="#80a6d2" stroke="none" stroke-width="0.8"/>
<circle cx="160.1" cy="366.3" r="2.05" fill="#80a6d2" stroke="none" stroke-width="0.8"/>
<circle cx="146.3" cy="365.8" r="2.05" fill="#80a6d2" stroke="none" stroke-width="0.8"/>
<circle cx="50.4" cy="384.8" r="2.05" fill="#80a6d2" stroke="none" stroke-width="0.8"/>
<circle cx="100.9" cy="383.8" r="2.05" fill="#80a6d2" stroke="none" stroke-width="0.8"/>
<circle cx="108.8" cy="383.8" r="2.05" fill="#80a6d2" stroke="none" stroke-width="0.8"/>
<circle cx="114.7" cy="377.7" r="2.05" fill="#80a6d2" stroke="none" stroke-width="0.8"/>
<circle cx="182.0" cy="316.3" r="2.05" fill="#ee6a5a" stroke="none" stroke-width="0.8"/>
<circle cx="193.5" cy="316.0" r="2.05" fill="#ee6a5a" stroke="none" stroke-width="0.8"/>
<circle cx="189.3" cy="319.5" r="2.05" fill="#ee6a5a" stroke="none" stroke-width="0.8"/>
<circle cx="182.0" cy="322.6" r="2.05" fill="#ee6a5a" stroke="none" stroke-width="0.8"/>
<circle cx="175.0" cy="323.6" r="2.05" fill="#ee6a5a" stroke="none" stroke-width="0.8"/>
<circle cx="171.0" cy="327.8" r="2.05" fill="#ee6a5a" stroke="none" stroke-width="0.8"/>
<circle cx="167.5" cy="330.8" r="2.05" fill="#ee6a5a" stroke="none" stroke-width="0.8"/>
<circle cx="188.2" cy="326.1" r="2.05" fill="#ee6a5a" stroke="none" stroke-width="0.8"/>
<circle cx="196.0" cy="325.4" r="2.05" fill="#ee6a5a" stroke="none" stroke-width="0.8"/>
<circle cx="198.9" cy="320.2" r="2.05" fill="#ee6a5a" stroke="none" stroke-width="0.8"/>
<circle cx="164.0" cy="361.3" r="2.05" fill="#ee6a5a" stroke="none" stroke-width="0.8"/>
<circle cx="143.5" cy="365.3" r="2.05" fill="#ee6a5a" stroke="none" stroke-width="0.8"/>
<circle cx="66.1" cy="420.0" r="2.05" fill="#ee6a5a" stroke="none" stroke-width="0.8"/>
<ellipse cx="183" cy="326.8" rx="23" ry="12.2" fill="none" stroke="#333" stroke-width="0.8" transform="rotate(-35 183 326.8)"/>
<text transform="translate(214.2 320.8) scale(1.0000 1)" font-size="6.85" font-weight="normal" text-anchor="start" fill="#333" stroke="#333" stroke-width="0.16">Fusion</text>
<circle cx="217.0" cy="329.9" r="1.9" fill="#ee6a5a" stroke="none" stroke-width="0.8"/>
<text transform="translate(225.1 331.9) scale(0.9259 1)" font-size="5.89" font-weight="normal" text-anchor="start" fill="#333" stroke="#333" stroke-width="0.16">KMT2A−MLLT3</text>
<circle cx="217.0" cy="340.3" r="1.9" fill="#80a6d2" stroke="none" stroke-width="0.8"/>
<text transform="translate(225.1 342.28) scale(0.9259 1)" font-size="5.89" font-weight="normal" text-anchor="start" fill="#333" stroke="#333" stroke-width="0.16">KMT2A−r</text>
<circle cx="217.0" cy="350.7" r="1.9" fill="#dad3d0" stroke="none" stroke-width="0.8"/>
<text transform="translate(225.1 352.65999999999997) scale(0.9259 1)" font-size="5.89" font-weight="normal" text-anchor="start" fill="#333" stroke="#333" stroke-width="0.16">Unknown</text>
<circle cx="217.0" cy="361.0" r="1.9" fill="#8cc34f" stroke="none" stroke-width="0.8"/>
<text transform="translate(225.1 363.03999999999996) scale(0.9259 1)" font-size="5.89" font-weight="normal" text-anchor="start" fill="#333" stroke="#333" stroke-width="0.16">FUS−r</text>
<circle cx="217.0" cy="371.4" r="1.9" fill="#f59e4c" stroke="none" stroke-width="0.8"/>
<text transform="translate(225.1 373.41999999999996) scale(0.9259 1)" font-size="5.89" font-weight="normal" text-anchor="start" fill="#333" stroke="#333" stroke-width="0.16">RUNX1−RUNX1T1</text>
<circle cx="217.0" cy="381.8" r="1.9" fill="#b862ae" stroke="none" stroke-width="0.8"/>
<text transform="translate(225.1 383.79999999999995) scale(0.9259 1)" font-size="5.89" font-weight="normal" text-anchor="start" fill="#333" stroke="#333" stroke-width="0.16">CBFB−MYH11</text>
<circle cx="217.0" cy="392.2" r="1.9" fill="#72c5a4" stroke="none" stroke-width="0.8"/>
<text transform="translate(225.1 394.17999999999995) scale(0.9259 1)" font-size="5.89" font-weight="normal" text-anchor="start" fill="#333" stroke="#333" stroke-width="0.16">CEBPA</text>
<circle cx="217.0" cy="402.6" r="1.9" fill="#b3a3d3" stroke="none" stroke-width="0.8"/>
<text transform="translate(225.1 404.56) scale(0.9259 1)" font-size="5.89" font-weight="normal" text-anchor="start" fill="#333" stroke="#333" stroke-width="0.16">CBFA2T3−GLIS2</text>
<circle cx="217.0" cy="412.9" r="1.9" fill="#f8f3aa" stroke="none" stroke-width="0.8"/>
<text transform="translate(225.1 414.94) scale(0.9259 1)" font-size="5.89" font-weight="normal" text-anchor="start" fill="#333" stroke="#333" stroke-width="0.16">NPM1</text>
<circle cx="217.0" cy="423.3" r="1.9" fill="#f6bcd6" stroke="none" stroke-width="0.8"/>
<text transform="translate(225.1 425.32) scale(0.9259 1)" font-size="5.89" font-weight="normal" text-anchor="start" fill="#333" stroke="#333" stroke-width="0.16">NUP98−r</text>
<circle cx="217.0" cy="433.7" r="1.9" fill="#bfe0a1" stroke="none" stroke-width="0.8"/>
<text transform="translate(225.1 435.7) scale(0.9259 1)" font-size="5.89" font-weight="normal" text-anchor="start" fill="#333" stroke="#333" stroke-width="0.16">Other−CA</text>
<text transform="translate(277.9 294.9) scale(1.0000 1)" font-size="9.20" font-weight="bold" text-anchor="start" fill="#111" stroke="#111" stroke-width="0.1">E</text>
<text transform="translate(299 303.6) scale(0.9259 1)" font-size="7.75" font-weight="bold" text-anchor="start" fill="#1a1a1a" stroke="#1a1a1a" stroke-width="0.1">MLL−AF9−associated core gene set UMAP (BeatAML)</text>
<rect x="299.5" y="309.5" width="181" height="166" fill="none" stroke="#707070" stroke-width="1.0" rx="0"/>
<line x1="297.3" y1="318.1" x2="299.5" y2="318.1" stroke="#555" stroke-width="0.9"/>
<text transform="translate(295.9 320.20000000000005) scale(0.9259 1)" font-size="6.05" font-weight="normal" text-anchor="end" fill="#333" stroke="#333" stroke-width="0.16">5.0</text>
<line x1="297.3" y1="349.4" x2="299.5" y2="349.4" stroke="#555" stroke-width="0.9"/>
<text transform="translate(295.9 351.5) scale(0.9259 1)" font-size="6.05" font-weight="normal" text-anchor="end" fill="#333" stroke="#333" stroke-width="0.16">2.5</text>
<line x1="297.3" y1="380.7" x2="299.5" y2="380.7" stroke="#555" stroke-width="0.9"/>
<text transform="translate(295.9 382.8) scale(0.9259 1)" font-size="6.05" font-weight="normal" text-anchor="end" fill="#333" stroke="#333" stroke-width="0.16">0.0</text>
<line x1="297.3" y1="412.0" x2="299.5" y2="412.0" stroke="#555" stroke-width="0.9"/>
<text transform="translate(295.9 414.1) scale(0.9259 1)" font-size="6.05" font-weight="normal" text-anchor="end" fill="#333" stroke="#333" stroke-width="0.16">−2.5</text>
<line x1="297.3" y1="443.29999999999995" x2="299.5" y2="443.29999999999995" stroke="#555" stroke-width="0.9"/>
<text transform="translate(295.9 445.4) scale(0.9259 1)" font-size="6.05" font-weight="normal" text-anchor="end" fill="#333" stroke="#333" stroke-width="0.16">−5.0</text>
<line x1="297.3" y1="474.59999999999997" x2="299.5" y2="474.59999999999997" stroke="#555" stroke-width="0.9"/>
<text transform="translate(295.9 476.7) scale(0.9259 1)" font-size="6.05" font-weight="normal" text-anchor="end" fill="#333" stroke="#333" stroke-width="0.16">−7.5</text>
<line x1="330.2" y1="475.5" x2="330.2" y2="477.7" stroke="#555" stroke-width="0.9"/>
<text transform="translate(330.2 484.5) scale(0.9259 1)" font-size="6.05" font-weight="normal" text-anchor="middle" fill="#444" stroke="#444" stroke-width="0.16">−2</text>
<line x1="374.0" y1="475.5" x2="374.0" y2="477.7" stroke="#555" stroke-width="0.9"/>
<text transform="translate(374.0 484.5) scale(0.9259 1)" font-size="6.05" font-weight="normal" text-anchor="middle" fill="#444" stroke="#444" stroke-width="0.16">0</text>
<line x1="417.8" y1="475.5" x2="417.8" y2="477.7" stroke="#555" stroke-width="0.9"/>
<text transform="translate(417.8 484.5) scale(0.9259 1)" font-size="6.05" font-weight="normal" text-anchor="middle" fill="#444" stroke="#444" stroke-width="0.16">2</text>
<line x1="461.6" y1="475.5" x2="461.6" y2="477.7" stroke="#555" stroke-width="0.9"/>
<text transform="translate(461.6 484.5) scale(0.9259 1)" font-size="6.05" font-weight="normal" text-anchor="middle" fill="#444" stroke="#444" stroke-width="0.16">4</text>
<text transform="translate(390.3 489.5) scale(0.9259 1)" font-size="6.91" font-weight="bold" text-anchor="middle" fill="#1a1a1a" stroke="#1a1a1a" stroke-width="0.1">UMAP1</text>
<text transform="translate(284 392) rotate(-90) scale(0.9259 1)" font-size="6.91" font-weight="bold" text-anchor="middle" fill="#1a1a1a" stroke="#1a1a1a" stroke-width="0.1">UMAP2</text>
<circle cx="331.0" cy="370.0" r="2.2" fill="#9fd0bb" stroke="none" stroke-width="0.8"/>
<circle cx="338.0" cy="389.0" r="2.2" fill="#9fd0bb" stroke="none" stroke-width="0.8"/>
<circle cx="351.0" cy="387.0" r="2.2" fill="#9fd0bb" stroke="none" stroke-width="0.8"/>
<circle cx="389.0" cy="363.0" r="2.2" fill="#9fd0bb" stroke="none" stroke-width="0.8"/>
<circle cx="367.0" cy="377.0" r="2.2" fill="#9fd0bb" stroke="none" stroke-width="0.8"/>
<circle cx="375.0" cy="398.0" r="2.2" fill="#9fd0bb" stroke="none" stroke-width="0.8"/>
<circle cx="383.0" cy="358.0" r="2.2" fill="#dad3d0" stroke="none" stroke-width="0.8"/>
<circle cx="389.0" cy="359.0" r="2.2" fill="#dad3d0" stroke="none" stroke-width="0.8"/>
<circle cx="377.0" cy="364.0" r="2.2" fill="#dad3d0" stroke="none" stroke-width="0.8"/>
<circle cx="371.0" cy="366.0" r="2.2" fill="#dad3d0" stroke="none" stroke-width="0.8"/>
<circle cx="319.0" cy="368.0" r="2.2" fill="#dad3d0" stroke="none" stroke-width="0.8"/>
<circle cx="327.0" cy="370.0" r="2.2" fill="#dad3d0" stroke="none" stroke-width="0.8"/>
<circle cx="335.0" cy="368.0" r="2.2" fill="#dad3d0" stroke="none" stroke-width="0.8"/>
<circle cx="339.0" cy="370.0" r="2.2" fill="#dad3d0" stroke="none" stroke-width="0.8"/>
<circle cx="355.0" cy="371.0" r="2.2" fill="#dad3d0" stroke="none" stroke-width="0.8"/>
<circle cx="361.0" cy="368.0" r="2.2" fill="#dad3d0" stroke="none" stroke-width="0.8"/>
<circle cx="365.0" cy="370.0" r="2.2" fill="#dad3d0" stroke="none" stroke-width="0.8"/>
<circle cx="375.0" cy="370.0" r="2.2" fill="#dad3d0" stroke="none" stroke-width="0.8"/>
<circle cx="381.0" cy="366.0" r="2.2" fill="#dad3d0" stroke="none" stroke-width="0.8"/>
<circle cx="387.0" cy="368.0" r="2.2" fill="#dad3d0" stroke="none" stroke-width="0.8"/>
<circle cx="315.0" cy="376.0" r="2.2" fill="#dad3d0" stroke="none" stroke-width="0.8"/>
<circle cx="321.0" cy="374.0" r="2.2" fill="#dad3d0" stroke="none" stroke-width="0.8"/>
<circle cx="329.0" cy="374.0" r="2.2" fill="#dad3d0" stroke="none" stroke-width="0.8"/>
<circle cx="337.0" cy="375.0" r="2.2" fill="#dad3d0" stroke="none" stroke-width="0.8"/>
<circle cx="345.0" cy="374.0" r="2.2" fill="#dad3d0" stroke="none" stroke-width="0.8"/>
<circle cx="353.0" cy="376.0" r="2.2" fill="#dad3d0" stroke="none" stroke-width="0.8"/>
<circle cx="359.0" cy="374.0" r="2.2" fill="#dad3d0" stroke="none" stroke-width="0.8"/>
<circle cx="371.0" cy="376.0" r="2.2" fill="#dad3d0" stroke="none" stroke-width="0.8"/>
<circle cx="377.0" cy="375.0" r="2.2" fill="#dad3d0" stroke="none" stroke-width="0.8"/>
<circle cx="385.0" cy="372.0" r="2.2" fill="#dad3d0" stroke="none" stroke-width="0.8"/>
<circle cx="391.0" cy="376.0" r="2.2" fill="#dad3d0" stroke="none" stroke-width="0.8"/>
<circle cx="399.0" cy="380.0" r="2.2" fill="#dad3d0" stroke="none" stroke-width="0.8"/>
<circle cx="307.0" cy="380.0" r="2.2" fill="#dad3d0" stroke="none" stroke-width="0.8"/>
<circle cx="313.0" cy="382.0" r="2.2" fill="#dad3d0" stroke="none" stroke-width="0.8"/>
<circle cx="321.0" cy="380.0" r="2.2" fill="#dad3d0" stroke="none" stroke-width="0.8"/>
<circle cx="327.0" cy="382.0" r="2.2" fill="#dad3d0" stroke="none" stroke-width="0.8"/>
<circle cx="335.0" cy="380.0" r="2.2" fill="#dad3d0" stroke="none" stroke-width="0.8"/>
<circle cx="341.0" cy="382.0" r="2.2" fill="#dad3d0" stroke="none" stroke-width="0.8"/>
<circle cx="349.0" cy="380.0" r="2.2" fill="#dad3d0" stroke="none" stroke-width="0.8"/>
<circle cx="357.0" cy="380.0" r="2.2" fill="#dad3d0" stroke="none" stroke-width="0.8"/>
<circle cx="369.0" cy="382.0" r="2.2" fill="#dad3d0" stroke="none" stroke-width="0.8"/>
<circle cx="375.0" cy="380.0" r="2.2" fill="#dad3d0" stroke="none" stroke-width="0.8"/>
<circle cx="383.0" cy="382.0" r="2.2" fill="#dad3d0" stroke="none" stroke-width="0.8"/>
<circle cx="389.0" cy="380.0" r="2.2" fill="#dad3d0" stroke="none" stroke-width="0.8"/>
<circle cx="311.0" cy="387.0" r="2.2" fill="#dad3d0" stroke="none" stroke-width="0.8"/>
<circle cx="317.0" cy="386.0" r="2.2" fill="#dad3d0" stroke="none" stroke-width="0.8"/>
<circle cx="325.0" cy="386.0" r="2.2" fill="#dad3d0" stroke="none" stroke-width="0.8"/>
<circle cx="333.0" cy="388.0" r="2.2" fill="#dad3d0" stroke="none" stroke-width="0.8"/>
<circle cx="339.0" cy="387.0" r="2.2" fill="#dad3d0" stroke="none" stroke-width="0.8"/>
<circle cx="347.0" cy="388.0" r="2.2" fill="#dad3d0" stroke="none" stroke-width="0.8"/>
<circle cx="355.0" cy="388.0" r="2.2" fill="#dad3d0" stroke="none" stroke-width="0.8"/>
<circle cx="365.0" cy="388.0" r="2.2" fill="#dad3d0" stroke="none" stroke-width="0.8"/>
<circle cx="371.0" cy="386.0" r="2.2" fill="#dad3d0" stroke="none" stroke-width="0.8"/>
<circle cx="379.0" cy="386.0" r="2.2" fill="#dad3d0" stroke="none" stroke-width="0.8"/>
<circle cx="385.0" cy="388.0" r="2.2" fill="#dad3d0" stroke="none" stroke-width="0.8"/>
<circle cx="319.0" cy="392.0" r="2.2" fill="#dad3d0" stroke="none" stroke-width="0.8"/>
<circle cx="327.0" cy="392.0" r="2.2" fill="#dad3d0" stroke="none" stroke-width="0.8"/>
<circle cx="367.0" cy="392.0" r="2.2" fill="#dad3d0" stroke="none" stroke-width="0.8"/>
<circle cx="373.0" cy="391.0" r="2.2" fill="#dad3d0" stroke="none" stroke-width="0.8"/>
<circle cx="379.0" cy="392.0" r="2.2" fill="#dad3d0" stroke="none" stroke-width="0.8"/>
<circle cx="383.0" cy="394.0" r="2.2" fill="#dad3d0" stroke="none" stroke-width="0.8"/>
<circle cx="387.0" cy="392.0" r="2.2" fill="#dad3d0" stroke="none" stroke-width="0.8"/>
<circle cx="325.0" cy="400.0" r="2.2" fill="#dad3d0" stroke="none" stroke-width="0.8"/>
<circle cx="361.0" cy="398.0" r="2.2" fill="#dad3d0" stroke="none" stroke-width="0.8"/>
<circle cx="365.0" cy="400.0" r="2.2" fill="#dad3d0" stroke="none" stroke-width="0.8"/>
<circle cx="355.0" cy="402.0" r="2.2" fill="#dad3d0" stroke="none" stroke-width="0.8"/>
<circle cx="349.0" cy="404.0" r="2.2" fill="#dad3d0" stroke="none" stroke-width="0.8"/>
<circle cx="343.0" cy="406.0" r="2.2" fill="#dad3d0" stroke="none" stroke-width="0.8"/>
<circle cx="337.0" cy="407.0" r="2.2" fill="#dad3d0" stroke="none" stroke-width="0.8"/>
<circle cx="331.0" cy="408.0" r="2.2" fill="#dad3d0" stroke="none" stroke-width="0.8"/>
<circle cx="359.0" cy="406.0" r="2.2" fill="#dad3d0" stroke="none" stroke-width="0.8"/>
<circle cx="363.0" cy="404.0" r="2.2" fill="#dad3d0" stroke="none" stroke-width="0.8"/>
<circle cx="317.0" cy="410.0" r="2.2" fill="#dad3d0" stroke="none" stroke-width="0.8"/>
<circle cx="323.0" cy="411.0" r="2.2" fill="#dad3d0" stroke="none" stroke-width="0.8"/>
<circle cx="329.0" cy="410.0" r="2.2" fill="#dad3d0" stroke="none" stroke-width="0.8"/>
<circle cx="335.0" cy="411.0" r="2.2" fill="#dad3d0" stroke="none" stroke-width="0.8"/>
<circle cx="341.0" cy="410.0" r="2.2" fill="#dad3d0" stroke="none" stroke-width="0.8"/>
<circle cx="319.0" cy="416.0" r="2.2" fill="#dad3d0" stroke="none" stroke-width="0.8"/>
<circle cx="327.0" cy="416.0" r="2.2" fill="#dad3d0" stroke="none" stroke-width="0.8"/>
<circle cx="333.0" cy="415.0" r="2.2" fill="#dad3d0" stroke="none" stroke-width="0.8"/>
<circle cx="310.0" cy="383.0" r="2.2" fill="#dad3d0" stroke="none" stroke-width="0.8"/>
<circle cx="318.0" cy="378.0" r="2.2" fill="#dad3d0" stroke="none" stroke-width="0.8"/>
<circle cx="324.0" cy="377.0" r="2.2" fill="#dad3d0" stroke="none" stroke-width="0.8"/>
<circle cx="332.0" cy="378.0" r="2.2" fill="#dad3d0" stroke="none" stroke-width="0.8"/>
<circle cx="342.0" cy="377.0" r="2.2" fill="#dad3d0" stroke="none" stroke-width="0.8"/>
<circle cx="350.0" cy="372.0" r="2.2" fill="#dad3d0" stroke="none" stroke-width="0.8"/>
<circle cx="364.0" cy="375.0" r="2.2" fill="#dad3d0" stroke="none" stroke-width="0.8"/>
<circle cx="374.0" cy="385.0" r="2.2" fill="#dad3d0" stroke="none" stroke-width="0.8"/>
<circle cx="382.0" cy="390.0" r="2.2" fill="#dad3d0" stroke="none" stroke-width="0.8"/>
<circle cx="388.0" cy="385.0" r="2.2" fill="#dad3d0" stroke="none" stroke-width="0.8"/>
<circle cx="362.0" cy="385.0" r="2.2" fill="#dad3d0" stroke="none" stroke-width="0.8"/>
<circle cx="329.0" cy="389.0" r="2.2" fill="#dad3d0" stroke="none" stroke-width="0.8"/>
<circle cx="323.0" cy="396.0" r="2.2" fill="#dad3d0" stroke="none" stroke-width="0.8"/>
<circle cx="375.0" cy="399.0" r="2.2" fill="#dad3d0" stroke="none" stroke-width="0.8"/>
<circle cx="377.0" cy="360.0" r="2.2" fill="#dad3d0" stroke="none" stroke-width="0.8"/>
<circle cx="383.0" cy="362.0" r="2.2" fill="#dad3d0" stroke="none" stroke-width="0.8"/>
<circle cx="319.0" cy="380.0" r="2.2" fill="#dad3d0" stroke="none" stroke-width="0.8"/>
<circle cx="312.0" cy="385.0" r="2.2" fill="#dad3d0" stroke="none" stroke-width="0.8"/>
<circle cx="355.0" cy="383.0" r="2.2" fill="#dad3d0" stroke="none" stroke-width="0.8"/>
<circle cx="345.0" cy="383.0" r="2.2" fill="#dad3d0" stroke="none" stroke-width="0.8"/>
<circle cx="380.4" cy="323.8" r="2.2" fill="#dad3d0" stroke="none" stroke-width="0.8"/>
<circle cx="386.9" cy="324.6" r="2.2" fill="#dad3d0" stroke="none" stroke-width="0.8"/>
<circle cx="395.1" cy="325.5" r="2.2" fill="#dad3d0" stroke="none" stroke-width="0.8"/>
<circle cx="410.6" cy="323.3" r="2.2" fill="#dad3d0" stroke="none" stroke-width="0.8"/>
<circle cx="384.5" cy="329.5" r="2.2" fill="#dad3d0" stroke="none" stroke-width="0.8"/>
<circle cx="390.2" cy="332.8" r="2.2" fill="#dad3d0" stroke="none" stroke-width="0.8"/>
<circle cx="392.6" cy="333.6" r="2.2" fill="#dad3d0" stroke="none" stroke-width="0.8"/>
<circle cx="398.4" cy="333.6" r="2.2" fill="#dad3d0" stroke="none" stroke-width="0.8"/>
<circle cx="404.9" cy="335.3" r="2.2" fill="#dad3d0" stroke="none" stroke-width="0.8"/>
<circle cx="371.4" cy="334.5" r="2.2" fill="#dad3d0" stroke="none" stroke-width="0.8"/>
<circle cx="426.2" cy="335.3" r="2.2" fill="#dad3d0" stroke="none" stroke-width="0.8"/>
<circle cx="431.1" cy="327.9" r="2.2" fill="#dad3d0" stroke="none" stroke-width="0.8"/>
<circle cx="433.6" cy="331.2" r="2.2" fill="#dad3d0" stroke="none" stroke-width="0.8"/>
<circle cx="412.0" cy="359.7" r="2.2" fill="#dad3d0" stroke="none" stroke-width="0.8"/>
<circle cx="381.5" cy="359.7" r="2.2" fill="#dad3d0" stroke="none" stroke-width="0.8"/>
<circle cx="387.9" cy="362.3" r="2.2" fill="#dad3d0" stroke="none" stroke-width="0.8"/>
<circle cx="384.1" cy="364.8" r="2.2" fill="#dad3d0" stroke="none" stroke-width="0.8"/>
<circle cx="449.9" cy="334.9" r="2.2" fill="#dad3d0" stroke="none" stroke-width="0.8"/>
<circle cx="467.7" cy="341.9" r="2.2" fill="#dad3d0" stroke="none" stroke-width="0.8"/>
<circle cx="471.3" cy="340.9" r="2.2" fill="#dad3d0" stroke="none" stroke-width="0.8"/>
<circle cx="426.6" cy="334.9" r="2.2" fill="#dad3d0" stroke="none" stroke-width="0.8"/>
<circle cx="431.1" cy="328.2" r="2.2" fill="#dad3d0" stroke="none" stroke-width="0.8"/>
<circle cx="432.5" cy="331.1" r="2.2" fill="#dad3d0" stroke="none" stroke-width="0.8"/>
<circle cx="438.9" cy="333.2" r="2.2" fill="#dad3d0" stroke="none" stroke-width="0.8"/>
<circle cx="412.8" cy="359.9" r="2.2" fill="#dad3d0" stroke="none" stroke-width="0.8"/>
<circle cx="316.1" cy="392.8" r="2.2" fill="#dad3d0" stroke="none" stroke-width="0.8"/>
<circle cx="327.4" cy="391.4" r="2.2" fill="#dad3d0" stroke="none" stroke-width="0.8"/>
<circle cx="324.6" cy="399.9" r="2.2" fill="#dad3d0" stroke="none" stroke-width="0.8"/>
<circle cx="341.5" cy="400.6" r="2.2" fill="#dad3d0" stroke="none" stroke-width="0.8"/>
<circle cx="348.5" cy="401.3" r="2.2" fill="#dad3d0" stroke="none" stroke-width="0.8"/>
<circle cx="352.7" cy="399.9" r="2.2" fill="#dad3d0" stroke="none" stroke-width="0.8"/>
<circle cx="359.8" cy="398.5" r="2.2" fill="#dad3d0" stroke="none" stroke-width="0.8"/>
<circle cx="359.8" cy="404.1" r="2.2" fill="#dad3d0" stroke="none" stroke-width="0.8"/>
<circle cx="362.6" cy="405.5" r="2.2" fill="#dad3d0" stroke="none" stroke-width="0.8"/>
<circle cx="354.2" cy="404.1" r="2.2" fill="#dad3d0" stroke="none" stroke-width="0.8"/>
<circle cx="344.3" cy="405.5" r="2.2" fill="#dad3d0" stroke="none" stroke-width="0.8"/>
<circle cx="335.8" cy="406.9" r="2.2" fill="#dad3d0" stroke="none" stroke-width="0.8"/>
<circle cx="328.8" cy="408.3" r="2.2" fill="#dad3d0" stroke="none" stroke-width="0.8"/>
<circle cx="332.3" cy="411.1" r="2.2" fill="#dad3d0" stroke="none" stroke-width="0.8"/>
<circle cx="337.3" cy="412.5" r="2.2" fill="#dad3d0" stroke="none" stroke-width="0.8"/>
<circle cx="340.1" cy="411.1" r="2.2" fill="#dad3d0" stroke="none" stroke-width="0.8"/>
<circle cx="328.8" cy="412.5" r="2.2" fill="#dad3d0" stroke="none" stroke-width="0.8"/>
<circle cx="321.8" cy="415.4" r="2.2" fill="#dad3d0" stroke="none" stroke-width="0.8"/>
<circle cx="319.6" cy="416.8" r="2.2" fill="#dad3d0" stroke="none" stroke-width="0.8"/>
<circle cx="326.0" cy="416.8" r="2.2" fill="#dad3d0" stroke="none" stroke-width="0.8"/>
<circle cx="323.2" cy="413.2" r="2.2" fill="#dad3d0" stroke="none" stroke-width="0.8"/>
<circle cx="377.1" cy="411.5" r="2.2" fill="#dad3d0" stroke="none" stroke-width="0.8"/>
<circle cx="370.5" cy="419.6" r="2.2" fill="#dad3d0" stroke="none" stroke-width="0.8"/>
<circle cx="378.6" cy="418.6" r="2.2" fill="#dad3d0" stroke="none" stroke-width="0.8"/>
<circle cx="367.0" cy="440.2" r="2.2" fill="#dad3d0" stroke="none" stroke-width="0.8"/>
<circle cx="369.0" cy="442.7" r="2.2" fill="#dad3d0" stroke="none" stroke-width="0.8"/>
<circle cx="373.0" cy="447.2" r="2.2" fill="#dad3d0" stroke="none" stroke-width="0.8"/>
<circle cx="370.0" cy="450.7" r="2.2" fill="#dad3d0" stroke="none" stroke-width="0.8"/>
<circle cx="373.0" cy="447.2" r="2.2" fill="#dad3d0" stroke="none" stroke-width="0.8"/>
<circle cx="370.0" cy="450.7" r="2.2" fill="#dad3d0" stroke="none" stroke-width="0.8"/>
<circle cx="367.0" cy="440.2" r="2.2" fill="#dad3d0" stroke="none" stroke-width="0.8"/>
<circle cx="369.0" cy="442.7" r="2.2" fill="#dad3d0" stroke="none" stroke-width="0.8"/>
<circle cx="400.4" cy="463.1" r="2.2" fill="#dad3d0" stroke="none" stroke-width="0.8"/>
<circle cx="410.5" cy="466.9" r="2.2" fill="#dad3d0" stroke="none" stroke-width="0.8"/>
<circle cx="311.5" cy="375.8" r="2.2" fill="#dad3d0" stroke="none" stroke-width="0.8"/>
<circle cx="360.8" cy="371.3" r="2.2" fill="#dad3d0" stroke="none" stroke-width="0.8"/>
<circle cx="370.6" cy="372.5" r="2.2" fill="#dad3d0" stroke="none" stroke-width="0.8"/>
<circle cx="349.1" cy="367.3" r="2.2" fill="#dad3d0" stroke="none" stroke-width="0.8"/>
<circle cx="378.6" cy="378.5" r="2.2" fill="#dad3d0" stroke="none" stroke-width="0.8"/>
<circle cx="372.1" cy="379.4" r="2.2" fill="#dad3d0" stroke="none" stroke-width="0.8"/>
<circle cx="351.0" cy="382.2" r="2.2" fill="#dad3d0" stroke="none" stroke-width="0.8"/>
<circle cx="313.7" cy="373.4" r="2.2" fill="#dad3d0" stroke="none" stroke-width="0.8"/>
<circle cx="340.1" cy="391.3" r="2.2" fill="#dad3d0" stroke="none" stroke-width="0.8"/>
<circle cx="396.5" cy="383.3" r="2.2" fill="#dad3d0" stroke="none" stroke-width="0.8"/>
<circle cx="343.3" cy="371.4" r="2.2" fill="#dad3d0" stroke="none" stroke-width="0.8"/>
<circle cx="315.8" cy="381.0" r="2.2" fill="#dad3d0" stroke="none" stroke-width="0.8"/>
<circle cx="315.6" cy="369.9" r="2.2" fill="#dad3d0" stroke="none" stroke-width="0.8"/>
<circle cx="338.6" cy="365.9" r="2.2" fill="#dad3d0" stroke="none" stroke-width="0.8"/>
<circle cx="321.9" cy="386.6" r="2.2" fill="#dad3d0" stroke="none" stroke-width="0.8"/>
<circle cx="383.7" cy="385.3" r="2.2" fill="#dad3d0" stroke="none" stroke-width="0.8"/>
<circle cx="368.0" cy="387.8" r="2.2" fill="#dad3d0" stroke="none" stroke-width="0.8"/>
<circle cx="374.9" cy="362.0" r="2.2" fill="#dad3d0" stroke="none" stroke-width="0.8"/>
<circle cx="319.9" cy="388.9" r="2.2" fill="#dad3d0" stroke="none" stroke-width="0.8"/>
<circle cx="329.9" cy="367.0" r="2.2" fill="#dad3d0" stroke="none" stroke-width="0.8"/>
<circle cx="328.9" cy="379.0" r="2.2" fill="#dad3d0" stroke="none" stroke-width="0.8"/>
<circle cx="358.8" cy="387.2" r="2.2" fill="#dad3d0" stroke="none" stroke-width="0.8"/>
<circle cx="320.5" cy="407.8" r="2.2" fill="#dad3d0" stroke="none" stroke-width="0.8"/>
<circle cx="347.4" cy="406.8" r="2.2" fill="#dad3d0" stroke="none" stroke-width="0.8"/>
<circle cx="338.6" cy="403.1" r="2.2" fill="#dad3d0" stroke="none" stroke-width="0.8"/>
<circle cx="344.0" cy="409.2" r="2.2" fill="#dad3d0" stroke="none" stroke-width="0.8"/>
<circle cx="334.4" cy="404.3" r="2.2" fill="#dad3d0" stroke="none" stroke-width="0.8"/>
<circle cx="353.8" cy="396.7" r="2.2" fill="#dad3d0" stroke="none" stroke-width="0.8"/>
<circle cx="364.0" cy="396.5" r="2.2" fill="#dad3d0" stroke="none" stroke-width="0.8"/>
<circle cx="349.6" cy="398.5" r="2.2" fill="#dad3d0" stroke="none" stroke-width="0.8"/>
<circle cx="344.0" cy="381.0" r="2.2" fill="#f8f3aa" stroke="none" stroke-width="0.8"/>
<circle cx="363.0" cy="381.0" r="2.2" fill="#f8f3aa" stroke="none" stroke-width="0.8"/>
<circle cx="374.0" cy="365.0" r="2.2" fill="#f8f3aa" stroke="none" stroke-width="0.8"/>
<circle cx="391.0" cy="373.0" r="2.2" fill="#f8f3aa" stroke="none" stroke-width="0.8"/>
<circle cx="395.0" cy="377.0" r="2.2" fill="#f8f3aa" stroke="none" stroke-width="0.8"/>
<circle cx="391.0" cy="386.0" r="2.2" fill="#f8f3aa" stroke="none" stroke-width="0.8"/>
<circle cx="351.0" cy="410.0" r="2.2" fill="#f8f3aa" stroke="none" stroke-width="0.8"/>
<circle cx="357.0" cy="409.0" r="2.2" fill="#f8f3aa" stroke="none" stroke-width="0.8"/>
<circle cx="319.0" cy="412.0" r="2.2" fill="#f8f3aa" stroke="none" stroke-width="0.8"/>
<circle cx="318.0" cy="415.0" r="2.2" fill="#f8f3aa" stroke="none" stroke-width="0.8"/>
<circle cx="364.0" cy="325.5" r="2.2" fill="#f8f3aa" stroke="none" stroke-width="0.8"/>
<circle cx="367.3" cy="324.6" r="2.2" fill="#f8f3aa" stroke="none" stroke-width="0.8"/>
<circle cx="370.5" cy="323.0" r="2.2" fill="#f8f3aa" stroke="none" stroke-width="0.8"/>
<circle cx="373.8" cy="322.2" r="2.2" fill="#f8f3aa" stroke="none" stroke-width="0.8"/>
<circle cx="377.9" cy="321.4" r="2.2" fill="#f8f3aa" stroke="none" stroke-width="0.8"/>
<circle cx="379.5" cy="320.5" r="2.2" fill="#f8f3aa" stroke="none" stroke-width="0.8"/>
<circle cx="383.6" cy="318.9" r="2.2" fill="#f8f3aa" stroke="none" stroke-width="0.8"/>
<circle cx="387.7" cy="319.7" r="2.2" fill="#f8f3aa" stroke="none" stroke-width="0.8"/>
<circle cx="391.8" cy="318.1" r="2.2" fill="#f8f3aa" stroke="none" stroke-width="0.8"/>
<circle cx="395.9" cy="317.3" r="2.2" fill="#f8f3aa" stroke="none" stroke-width="0.8"/>
<circle cx="400.0" cy="318.1" r="2.2" fill="#f8f3aa" stroke="none" stroke-width="0.8"/>
<circle cx="404.1" cy="319.7" r="2.2" fill="#f8f3aa" stroke="none" stroke-width="0.8"/>
<circle cx="406.6" cy="320.5" r="2.2" fill="#f8f3aa" stroke="none" stroke-width="0.8"/>
<circle cx="384.5" cy="322.2" r="2.2" fill="#f8f3aa" stroke="none" stroke-width="0.8"/>
<circle cx="388.6" cy="321.4" r="2.2" fill="#f8f3aa" stroke="none" stroke-width="0.8"/>
<circle cx="392.6" cy="322.2" r="2.2" fill="#f8f3aa" stroke="none" stroke-width="0.8"/>
<circle cx="397.6" cy="323.0" r="2.2" fill="#f8f3aa" stroke="none" stroke-width="0.8"/>
<circle cx="401.6" cy="323.0" r="2.2" fill="#f8f3aa" stroke="none" stroke-width="0.8"/>
<circle cx="404.1" cy="324.6" r="2.2" fill="#f8f3aa" stroke="none" stroke-width="0.8"/>
<circle cx="397.6" cy="325.5" r="2.2" fill="#f8f3aa" stroke="none" stroke-width="0.8"/>
<circle cx="389.4" cy="326.3" r="2.2" fill="#f8f3aa" stroke="none" stroke-width="0.8"/>
<circle cx="368.1" cy="331.2" r="2.2" fill="#f8f3aa" stroke="none" stroke-width="0.8"/>
<circle cx="400.8" cy="333.6" r="2.2" fill="#f8f3aa" stroke="none" stroke-width="0.8"/>
<circle cx="406.6" cy="332.8" r="2.2" fill="#f8f3aa" stroke="none" stroke-width="0.8"/>
<circle cx="409.8" cy="328.7" r="2.2" fill="#f8f3aa" stroke="none" stroke-width="0.8"/>
<circle cx="415.6" cy="329.5" r="2.2" fill="#f8f3aa" stroke="none" stroke-width="0.8"/>
<circle cx="418.0" cy="330.4" r="2.2" fill="#f8f3aa" stroke="none" stroke-width="0.8"/>
<circle cx="420.5" cy="332.0" r="2.2" fill="#f8f3aa" stroke="none" stroke-width="0.8"/>
<circle cx="422.1" cy="331.2" r="2.2" fill="#f8f3aa" stroke="none" stroke-width="0.8"/>
<circle cx="415.6" cy="334.5" r="2.2" fill="#f8f3aa" stroke="none" stroke-width="0.8"/>
<circle cx="416.4" cy="336.9" r="2.2" fill="#f8f3aa" stroke="none" stroke-width="0.8"/>
<circle cx="414.7" cy="336.1" r="2.2" fill="#f8f3aa" stroke="none" stroke-width="0.8"/>
<circle cx="431.1" cy="333.6" r="2.2" fill="#f8f3aa" stroke="none" stroke-width="0.8"/>
<circle cx="431.9" cy="329.5" r="2.2" fill="#f8f3aa" stroke="none" stroke-width="0.8"/>
<circle cx="371.4" cy="325.5" r="2.2" fill="#f8f3aa" stroke="none" stroke-width="0.8"/>
<circle cx="376.3" cy="325.5" r="2.2" fill="#f8f3aa" stroke="none" stroke-width="0.8"/>
<circle cx="384.5" cy="318.1" r="2.2" fill="#f8f3aa" stroke="none" stroke-width="0.8"/>
<circle cx="399.2" cy="320.5" r="2.2" fill="#f8f3aa" stroke="none" stroke-width="0.8"/>
<circle cx="394.3" cy="319.7" r="2.2" fill="#f8f3aa" stroke="none" stroke-width="0.8"/>
<circle cx="381.2" cy="323.0" r="2.2" fill="#f8f3aa" stroke="none" stroke-width="0.8"/>
<circle cx="394.2" cy="358.4" r="2.2" fill="#f8f3aa" stroke="none" stroke-width="0.8"/>
<circle cx="398.1" cy="357.2" r="2.2" fill="#f8f3aa" stroke="none" stroke-width="0.8"/>
<circle cx="401.9" cy="359.7" r="2.2" fill="#f8f3aa" stroke="none" stroke-width="0.8"/>
<circle cx="405.7" cy="358.4" r="2.2" fill="#f8f3aa" stroke="none" stroke-width="0.8"/>
<circle cx="396.8" cy="362.3" r="2.2" fill="#f8f3aa" stroke="none" stroke-width="0.8"/>
<circle cx="400.6" cy="363.5" r="2.2" fill="#f8f3aa" stroke="none" stroke-width="0.8"/>
<circle cx="404.4" cy="364.8" r="2.2" fill="#f8f3aa" stroke="none" stroke-width="0.8"/>
<circle cx="408.2" cy="367.3" r="2.2" fill="#f8f3aa" stroke="none" stroke-width="0.8"/>
<circle cx="407.0" cy="369.9" r="2.2" fill="#f8f3aa" stroke="none" stroke-width="0.8"/>
<circle cx="399.3" cy="367.3" r="2.2" fill="#f8f3aa" stroke="none" stroke-width="0.8"/>
<circle cx="395.5" cy="366.1" r="2.2" fill="#f8f3aa" stroke="none" stroke-width="0.8"/>
<circle cx="403.1" cy="361.0" r="2.2" fill="#f8f3aa" stroke="none" stroke-width="0.8"/>
<circle cx="385.3" cy="354.6" r="2.2" fill="#f8f3aa" stroke="none" stroke-width="0.8"/>
<circle cx="391.7" cy="363.5" r="2.2" fill="#f8f3aa" stroke="none" stroke-width="0.8"/>
<circle cx="431.0" cy="332.0" r="2.2" fill="#f8f3aa" stroke="none" stroke-width="0.8"/>
<circle cx="318.9" cy="411.8" r="2.2" fill="#f8f3aa" stroke="none" stroke-width="0.8"/>
<circle cx="318.2" cy="415.4" r="2.2" fill="#f8f3aa" stroke="none" stroke-width="0.8"/>
<circle cx="351.3" cy="410.4" r="2.2" fill="#f8f3aa" stroke="none" stroke-width="0.8"/>
<circle cx="357.0" cy="409.7" r="2.2" fill="#f8f3aa" stroke="none" stroke-width="0.8"/>
<circle cx="384.6" cy="430.1" r="2.2" fill="#f8f3aa" stroke="none" stroke-width="0.8"/>
<circle cx="332.0" cy="383.0" r="2.2" fill="#bfe0a1" stroke="none" stroke-width="0.8"/>
<circle cx="344.0" cy="385.0" r="2.2" fill="#bfe0a1" stroke="none" stroke-width="0.8"/>
<circle cx="348.0" cy="382.0" r="2.2" fill="#bfe0a1" stroke="none" stroke-width="0.8"/>
<circle cx="374.3" cy="326.8" r="2.2" fill="#8cc34f" stroke="none" stroke-width="0.8"/>
<circle cx="386.9" cy="330.4" r="2.2" fill="#8cc34f" stroke="none" stroke-width="0.8"/>
<circle cx="377.9" cy="327.9" r="2.2" fill="#72c5a4" stroke="none" stroke-width="0.8"/>
<circle cx="395.1" cy="332.8" r="2.2" fill="#72c5a4" stroke="none" stroke-width="0.8"/>
<circle cx="364.0" cy="427.3" r="2.2" fill="#72c5a4" stroke="none" stroke-width="0.8"/>
<circle cx="364.0" cy="450.3" r="2.2" fill="#72c5a4" stroke="none" stroke-width="0.8"/>
<circle cx="370.0" cy="446.2" r="2.2" fill="#72c5a4" stroke="none" stroke-width="0.8"/>
<circle cx="375.1" cy="446.2" r="2.2" fill="#72c5a4" stroke="none" stroke-width="0.8"/>
<circle cx="378.1" cy="447.2" r="2.2" fill="#72c5a4" stroke="none" stroke-width="0.8"/>
<circle cx="379.1" cy="450.2" r="2.2" fill="#72c5a4" stroke="none" stroke-width="0.8"/>
<circle cx="375.1" cy="451.2" r="2.2" fill="#72c5a4" stroke="none" stroke-width="0.8"/>
<circle cx="370.0" cy="450.2" r="2.2" fill="#72c5a4" stroke="none" stroke-width="0.8"/>
<circle cx="366.0" cy="449.2" r="2.2" fill="#72c5a4" stroke="none" stroke-width="0.8"/>
<circle cx="372.5" cy="449.2" r="2.2" fill="#72c5a4" stroke="none" stroke-width="0.8"/>
<circle cx="377.1" cy="449.2" r="2.2" fill="#72c5a4" stroke="none" stroke-width="0.8"/>
<circle cx="354.0" cy="410.0" r="2.2" fill="#b3a3d3" stroke="none" stroke-width="0.8"/>
<circle cx="416.9" cy="325.9" r="2.2" fill="#b3a3d3" stroke="none" stroke-width="0.8"/>
<circle cx="335.0" cy="413.0" r="2.2" fill="#f59e4c" stroke="none" stroke-width="0.8"/>
<circle cx="347.0" cy="410.0" r="2.2" fill="#f59e4c" stroke="none" stroke-width="0.8"/>
<circle cx="361.0" cy="411.0" r="2.2" fill="#f59e4c" stroke="none" stroke-width="0.8"/>
<circle cx="334.9" cy="413.2" r="2.2" fill="#f59e4c" stroke="none" stroke-width="0.8"/>
<circle cx="347.1" cy="410.4" r="2.2" fill="#f59e4c" stroke="none" stroke-width="0.8"/>
<circle cx="360.5" cy="411.4" r="2.2" fill="#f59e4c" stroke="none" stroke-width="0.8"/>
<circle cx="393.1" cy="440.2" r="2.2" fill="#f59e4c" stroke="none" stroke-width="0.8"/>
<circle cx="392.6" cy="442.2" r="2.2" fill="#f59e4c" stroke="none" stroke-width="0.8"/>
<circle cx="391.6" cy="443.7" r="2.2" fill="#f59e4c" stroke="none" stroke-width="0.8"/>
<circle cx="389.1" cy="445.2" r="2.2" fill="#f59e4c" stroke="none" stroke-width="0.8"/>
<circle cx="387.1" cy="445.7" r="2.2" fill="#f59e4c" stroke="none" stroke-width="0.8"/>
<circle cx="385.6" cy="445.7" r="2.2" fill="#f59e4c" stroke="none" stroke-width="0.8"/>
<circle cx="328.0" cy="418.0" r="2.2" fill="#f6bcd6" stroke="none" stroke-width="0.8"/>
<circle cx="328.1" cy="417.5" r="2.2" fill="#f6bcd6" stroke="none" stroke-width="0.8"/>
<circle cx="395.9" cy="460.5" r="2.2" fill="#f6bcd6" stroke="none" stroke-width="0.8"/>
<circle cx="400.4" cy="466.9" r="2.2" fill="#f6bcd6" stroke="none" stroke-width="0.8"/>
<circle cx="403.5" cy="465.0" r="2.2" fill="#f6bcd6" stroke="none" stroke-width="0.8"/>
<circle cx="405.5" cy="466.3" r="2.2" fill="#f6bcd6" stroke="none" stroke-width="0.8"/>
<circle cx="402.3" cy="468.2" r="2.2" fill="#f6bcd6" stroke="none" stroke-width="0.8"/>
<circle cx="399.7" cy="468.2" r="2.2" fill="#f6bcd6" stroke="none" stroke-width="0.8"/>
<circle cx="331.3" cy="417.5" r="2.2" fill="#b862ae" stroke="none" stroke-width="0.8"/>
<circle cx="359.1" cy="421.7" r="2.2" fill="#b862ae" stroke="none" stroke-width="0.8"/>
<circle cx="362.3" cy="424.9" r="2.2" fill="#b862ae" stroke="none" stroke-width="0.8"/>
<circle cx="378.1" cy="416.1" r="2.2" fill="#b862ae" stroke="none" stroke-width="0.8"/>
<circle cx="380.1" cy="417.6" r="2.2" fill="#b862ae" stroke="none" stroke-width="0.8"/>
<circle cx="382.6" cy="418.1" r="2.2" fill="#b862ae" stroke="none" stroke-width="0.8"/>
<circle cx="381.1" cy="420.1" r="2.2" fill="#b862ae" stroke="none" stroke-width="0.8"/>
<circle cx="383.6" cy="421.1" r="2.2" fill="#b862ae" stroke="none" stroke-width="0.8"/>
<circle cx="386.1" cy="421.1" r="2.2" fill="#b862ae" stroke="none" stroke-width="0.8"/>
<circle cx="388.1" cy="422.6" r="2.2" fill="#b862ae" stroke="none" stroke-width="0.8"/>
<circle cx="390.6" cy="423.6" r="2.2" fill="#b862ae" stroke="none" stroke-width="0.8"/>
<circle cx="393.1" cy="424.6" r="2.2" fill="#b862ae" stroke="none" stroke-width="0.8"/>
<circle cx="395.2" cy="425.6" r="2.2" fill="#b862ae" stroke="none" stroke-width="0.8"/>
<circle cx="396.2" cy="426.6" r="2.2" fill="#b862ae" stroke="none" stroke-width="0.8"/>
<circle cx="393.6" cy="427.6" r="2.2" fill="#b862ae" stroke="none" stroke-width="0.8"/>
<circle cx="390.6" cy="428.6" r="2.2" fill="#b862ae" stroke="none" stroke-width="0.8"/>
<circle cx="388.6" cy="426.6" r="2.2" fill="#b862ae" stroke="none" stroke-width="0.8"/>
<circle cx="385.6" cy="424.6" r="2.2" fill="#b862ae" stroke="none" stroke-width="0.8"/>
<circle cx="383.1" cy="423.6" r="2.2" fill="#b862ae" stroke="none" stroke-width="0.8"/>
<circle cx="380.1" cy="421.6" r="2.2" fill="#b862ae" stroke="none" stroke-width="0.8"/>
<circle cx="391.6" cy="425.6" r="2.2" fill="#b862ae" stroke="none" stroke-width="0.8"/>
<circle cx="369.5" cy="419.6" r="2.2" fill="#b862ae" stroke="none" stroke-width="0.8"/>
<circle cx="325.0" cy="407.0" r="2.2" fill="#ee6a5a" stroke="none" stroke-width="0.8"/>
<circle cx="442.7" cy="338.8" r="2.2" fill="#ee6a5a" stroke="none" stroke-width="0.8"/>
<circle cx="446.3" cy="339.9" r="2.2" fill="#ee6a5a" stroke="none" stroke-width="0.8"/>
<circle cx="464.2" cy="336.0" r="2.2" fill="#ee6a5a" stroke="none" stroke-width="0.8"/>
<circle cx="466.3" cy="335.3" r="2.2" fill="#ee6a5a" stroke="none" stroke-width="0.8"/>
<circle cx="469.2" cy="336.7" r="2.2" fill="#ee6a5a" stroke="none" stroke-width="0.8"/>
<circle cx="471.3" cy="337.7" r="2.2" fill="#ee6a5a" stroke="none" stroke-width="0.8"/>
<circle cx="467.7" cy="337.7" r="2.2" fill="#ee6a5a" stroke="none" stroke-width="0.8"/>
<ellipse cx="457" cy="338.8" rx="19.5" ry="9.9" fill="none" stroke="#333" stroke-width="0.8"/>
<text transform="translate(485.9 320.8) scale(1.0000 1)" font-size="6.85" font-weight="normal" text-anchor="start" fill="#333" stroke="#333" stroke-width="0.16">Fusion</text>
<circle cx="488.3" cy="329.4" r="1.9" fill="#ee6a5a" stroke="none" stroke-width="0.8"/>
<text transform="translate(496.9 331.4) scale(0.9259 1)" font-size="5.89" font-weight="normal" text-anchor="start" fill="#333" stroke="#333" stroke-width="0.16">KMT2A−MLLT3</text>
<circle cx="488.3" cy="339.9" r="1.9" fill="#dad3d0" stroke="none" stroke-width="0.8"/>
<text transform="translate(496.9 341.85999999999996) scale(0.9259 1)" font-size="5.89" font-weight="normal" text-anchor="start" fill="#333" stroke="#333" stroke-width="0.16">Other</text>
<circle cx="488.3" cy="350.3" r="1.9" fill="#8cc34f" stroke="none" stroke-width="0.8"/>
<text transform="translate(496.9 352.32) scale(0.9259 1)" font-size="5.89" font-weight="normal" text-anchor="start" fill="#333" stroke="#333" stroke-width="0.16">DEK−NUP214</text>
<circle cx="488.3" cy="360.8" r="1.9" fill="#f59e4c" stroke="none" stroke-width="0.8"/>
<text transform="translate(496.9 362.78) scale(0.9259 1)" font-size="5.89" font-weight="normal" text-anchor="start" fill="#333" stroke="#333" stroke-width="0.16">RUNX1−RUNX1T1</text>
<circle cx="488.3" cy="371.2" r="1.9" fill="#b862ae" stroke="none" stroke-width="0.8"/>
<text transform="translate(496.9 373.24) scale(0.9259 1)" font-size="5.89" font-weight="normal" text-anchor="start" fill="#333" stroke="#333" stroke-width="0.16">CBFB−MYH11</text>
<circle cx="488.3" cy="381.7" r="1.9" fill="#72c5a4" stroke="none" stroke-width="0.8"/>
<text transform="translate(496.9 383.7) scale(0.9259 1)" font-size="5.89" font-weight="normal" text-anchor="start" fill="#333" stroke="#333" stroke-width="0.16">CEBPA</text>
<circle cx="488.3" cy="392.2" r="1.9" fill="#b3a3d3" stroke="none" stroke-width="0.8"/>
<text transform="translate(496.9 394.15999999999997) scale(0.9259 1)" font-size="5.89" font-weight="normal" text-anchor="start" fill="#333" stroke="#333" stroke-width="0.16">Complex</text>
<circle cx="488.3" cy="402.6" r="1.9" fill="#f8f3aa" stroke="none" stroke-width="0.8"/>
<text transform="translate(496.9 404.62) scale(0.9259 1)" font-size="5.89" font-weight="normal" text-anchor="start" fill="#333" stroke="#333" stroke-width="0.16">NPM1</text>
<circle cx="488.3" cy="413.1" r="1.9" fill="#f6bcd6" stroke="none" stroke-width="0.8"/>
<text transform="translate(496.9 415.08) scale(0.9259 1)" font-size="5.89" font-weight="normal" text-anchor="start" fill="#333" stroke="#333" stroke-width="0.16">PML−RARA</text>
<circle cx="488.3" cy="423.5" r="1.9" fill="#bfe0a1" stroke="none" stroke-width="0.8"/>
<text transform="translate(496.9 425.53999999999996) scale(0.9259 1)" font-size="5.89" font-weight="normal" text-anchor="start" fill="#333" stroke="#333" stroke-width="0.16">GATA2−MECOM</text>
</svg>
</body></html>
